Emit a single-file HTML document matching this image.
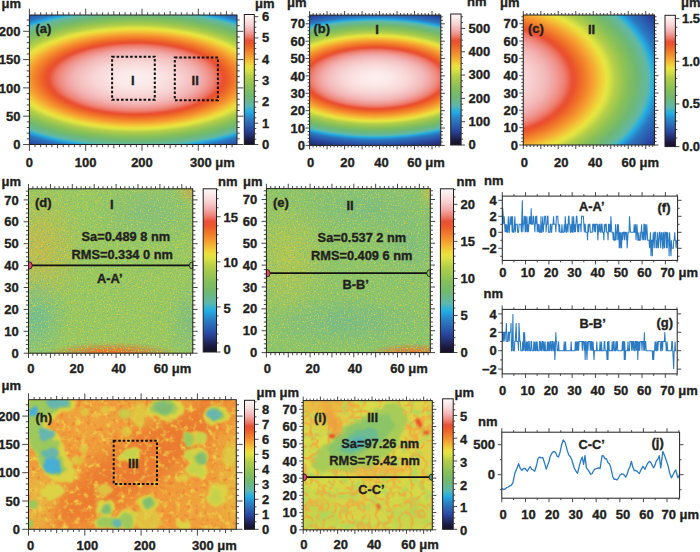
<!DOCTYPE html><html><head><meta charset="utf-8"><style>html,body{margin:0;padding:0;background:#fff}svg{display:block}text{font-family:"Liberation Sans", sans-serif}</style></head><body><svg width="700" height="552" viewBox="0 0 700 552"><defs><radialGradient id="ga" gradientUnits="userSpaceOnUse" cx="0" cy="0" r="1" fx="0" fy="0" gradientTransform="translate(135.70 78.50) scale(259.50 106.50)"><stop offset="0.0000" stop-color="#fdf0f0"/><stop offset="0.0111" stop-color="#fdefef"/><stop offset="0.0222" stop-color="#fdeeee"/><stop offset="0.0333" stop-color="#fceded"/><stop offset="0.0444" stop-color="#fcebeb"/><stop offset="0.0556" stop-color="#fceaea"/><stop offset="0.0667" stop-color="#fce9e9"/><stop offset="0.0778" stop-color="#fbe7e7"/><stop offset="0.0889" stop-color="#fbe5e5"/><stop offset="0.1000" stop-color="#fbe3e3"/><stop offset="0.1111" stop-color="#fae0e0"/><stop offset="0.1222" stop-color="#fadede"/><stop offset="0.1333" stop-color="#f9dbdb"/><stop offset="0.1444" stop-color="#f9d9d9"/><stop offset="0.1556" stop-color="#f8d6d6"/><stop offset="0.1667" stop-color="#f8d3d3"/><stop offset="0.1778" stop-color="#f7cece"/><stop offset="0.1889" stop-color="#f6caca"/><stop offset="0.2000" stop-color="#f6c6c6"/><stop offset="0.2111" stop-color="#f5c1c1"/><stop offset="0.2222" stop-color="#f4bdbd"/><stop offset="0.2333" stop-color="#f3b7b7"/><stop offset="0.2444" stop-color="#f2b1b1"/><stop offset="0.2556" stop-color="#f1a9a7"/><stop offset="0.2667" stop-color="#f1a19d"/><stop offset="0.2778" stop-color="#f09892"/><stop offset="0.2889" stop-color="#ef8e84"/><stop offset="0.3000" stop-color="#ee8377"/><stop offset="0.3111" stop-color="#ed7565"/><stop offset="0.3222" stop-color="#eb634d"/><stop offset="0.3333" stop-color="#e95135"/><stop offset="0.3444" stop-color="#ea522b"/><stop offset="0.3556" stop-color="#ec5d2a"/><stop offset="0.3667" stop-color="#ee6929"/><stop offset="0.3778" stop-color="#f17529"/><stop offset="0.3889" stop-color="#f2822b"/><stop offset="0.4000" stop-color="#f48f2e"/><stop offset="0.4111" stop-color="#f59c30"/><stop offset="0.4222" stop-color="#f4ab33"/><stop offset="0.4333" stop-color="#f3ba35"/><stop offset="0.4444" stop-color="#f2c938"/><stop offset="0.4556" stop-color="#eed63b"/><stop offset="0.4667" stop-color="#eae33f"/><stop offset="0.4778" stop-color="#dbe242"/><stop offset="0.4889" stop-color="#cad945"/><stop offset="0.5000" stop-color="#b8d047"/><stop offset="0.5111" stop-color="#abcb4b"/><stop offset="0.5222" stop-color="#a0c84f"/><stop offset="0.5333" stop-color="#94c453"/><stop offset="0.5444" stop-color="#8ac157"/><stop offset="0.5556" stop-color="#82be5e"/><stop offset="0.5667" stop-color="#7bbc65"/><stop offset="0.5778" stop-color="#74b96c"/><stop offset="0.5889" stop-color="#6eb876"/><stop offset="0.6000" stop-color="#6ab884"/><stop offset="0.6111" stop-color="#67b891"/><stop offset="0.6222" stop-color="#63b89f"/><stop offset="0.6333" stop-color="#57b7b1"/><stop offset="0.6444" stop-color="#2eb2da"/><stop offset="0.6556" stop-color="#24a0dc"/><stop offset="0.6667" stop-color="#2989cb"/><stop offset="0.6778" stop-color="#2a77bf"/><stop offset="0.6889" stop-color="#2a6db8"/><stop offset="0.7000" stop-color="#2a64b3"/><stop offset="0.7111" stop-color="#2a5bad"/><stop offset="0.7222" stop-color="#2a52a8"/><stop offset="0.7333" stop-color="#2a49a2"/><stop offset="0.7444" stop-color="#294197"/><stop offset="0.7556" stop-color="#273c8b"/><stop offset="0.7667" stop-color="#253781"/><stop offset="0.7778" stop-color="#243378"/><stop offset="0.7889" stop-color="#222e6e"/><stop offset="0.8000" stop-color="#212a64"/><stop offset="0.8111" stop-color="#1f265a"/><stop offset="0.8222" stop-color="#1e2150"/><stop offset="0.8333" stop-color="#1c1d45"/><stop offset="0.8444" stop-color="#1b1c42"/><stop offset="0.8556" stop-color="#1b1a3e"/><stop offset="0.8667" stop-color="#1a193b"/><stop offset="0.8778" stop-color="#1a1838"/><stop offset="0.8889" stop-color="#191736"/><stop offset="0.9000" stop-color="#191735"/><stop offset="0.9111" stop-color="#191634"/><stop offset="0.9222" stop-color="#181533"/><stop offset="0.9333" stop-color="#181531"/><stop offset="0.9444" stop-color="#171430"/><stop offset="0.9556" stop-color="#17132f"/><stop offset="0.9667" stop-color="#16132e"/><stop offset="0.9778" stop-color="#16122c"/><stop offset="0.9889" stop-color="#15122b"/><stop offset="1.0000" stop-color="#15112a"/></radialGradient><linearGradient id="cba" x1="0" y1="0" x2="0" y2="1"><stop offset="0.0000" stop-color="#fff8f8"/><stop offset="0.0250" stop-color="#fdeded"/><stop offset="0.0500" stop-color="#fae1e1"/><stop offset="0.0750" stop-color="#f8d4d4"/><stop offset="0.1000" stop-color="#f5c0c0"/><stop offset="0.1250" stop-color="#f2acab"/><stop offset="0.1500" stop-color="#f0928a"/><stop offset="0.1750" stop-color="#ed7565"/><stop offset="0.2000" stop-color="#e95135"/><stop offset="0.2250" stop-color="#eb572b"/><stop offset="0.2500" stop-color="#ee6829"/><stop offset="0.2750" stop-color="#f17a2a"/><stop offset="0.3000" stop-color="#f38d2e"/><stop offset="0.3250" stop-color="#f5a131"/><stop offset="0.3500" stop-color="#f3b735"/><stop offset="0.3750" stop-color="#f1ce38"/><stop offset="0.4000" stop-color="#ebe03e"/><stop offset="0.4250" stop-color="#dce242"/><stop offset="0.4500" stop-color="#c8d845"/><stop offset="0.4750" stop-color="#b4ce48"/><stop offset="0.5000" stop-color="#a7ca4d"/><stop offset="0.5250" stop-color="#9ac651"/><stop offset="0.5500" stop-color="#8dc256"/><stop offset="0.5750" stop-color="#83be5d"/><stop offset="0.6000" stop-color="#7abb66"/><stop offset="0.6250" stop-color="#72b96e"/><stop offset="0.6500" stop-color="#6bb881"/><stop offset="0.6750" stop-color="#65b896"/><stop offset="0.7000" stop-color="#5cb8ac"/><stop offset="0.7250" stop-color="#3bb3cd"/><stop offset="0.7500" stop-color="#21ace5"/><stop offset="0.7750" stop-color="#2695d4"/><stop offset="0.8000" stop-color="#2a80c5"/><stop offset="0.8250" stop-color="#2a70bb"/><stop offset="0.8500" stop-color="#2a60b0"/><stop offset="0.8750" stop-color="#2a4fa6"/><stop offset="0.9000" stop-color="#283f93"/><stop offset="0.9250" stop-color="#233173"/><stop offset="0.9500" stop-color="#1e2353"/><stop offset="0.9750" stop-color="#191736"/><stop offset="1.0000" stop-color="#15112a"/></linearGradient><radialGradient id="gb" gradientUnits="userSpaceOnUse" cx="0" cy="0" r="1" fx="0" fy="0" gradientTransform="translate(375.20 78.30) scale(210.00 90.90)"><stop offset="0.0000" stop-color="#fdf0f0"/><stop offset="0.0111" stop-color="#fdefef"/><stop offset="0.0222" stop-color="#fdeeee"/><stop offset="0.0333" stop-color="#fceded"/><stop offset="0.0444" stop-color="#fcebeb"/><stop offset="0.0556" stop-color="#fceaea"/><stop offset="0.0667" stop-color="#fce9e9"/><stop offset="0.0778" stop-color="#fbe7e7"/><stop offset="0.0889" stop-color="#fbe5e5"/><stop offset="0.1000" stop-color="#fbe3e3"/><stop offset="0.1111" stop-color="#fae0e0"/><stop offset="0.1222" stop-color="#fadede"/><stop offset="0.1333" stop-color="#f9dbdb"/><stop offset="0.1444" stop-color="#f9d9d9"/><stop offset="0.1556" stop-color="#f8d6d6"/><stop offset="0.1667" stop-color="#f8d3d3"/><stop offset="0.1778" stop-color="#f7cece"/><stop offset="0.1889" stop-color="#f6caca"/><stop offset="0.2000" stop-color="#f6c6c6"/><stop offset="0.2111" stop-color="#f5c1c1"/><stop offset="0.2222" stop-color="#f4bdbd"/><stop offset="0.2333" stop-color="#f3b7b7"/><stop offset="0.2444" stop-color="#f2b1b1"/><stop offset="0.2556" stop-color="#f1a9a7"/><stop offset="0.2667" stop-color="#f1a19d"/><stop offset="0.2778" stop-color="#f09892"/><stop offset="0.2889" stop-color="#ef8e84"/><stop offset="0.3000" stop-color="#ee8377"/><stop offset="0.3111" stop-color="#ed7565"/><stop offset="0.3222" stop-color="#eb634d"/><stop offset="0.3333" stop-color="#e95135"/><stop offset="0.3444" stop-color="#ea522b"/><stop offset="0.3556" stop-color="#ec5d2a"/><stop offset="0.3667" stop-color="#ee6929"/><stop offset="0.3778" stop-color="#f17529"/><stop offset="0.3889" stop-color="#f2822b"/><stop offset="0.4000" stop-color="#f48f2e"/><stop offset="0.4111" stop-color="#f59c30"/><stop offset="0.4222" stop-color="#f4ab33"/><stop offset="0.4333" stop-color="#f3ba35"/><stop offset="0.4444" stop-color="#f2c938"/><stop offset="0.4556" stop-color="#eed63b"/><stop offset="0.4667" stop-color="#eae33f"/><stop offset="0.4778" stop-color="#dbe242"/><stop offset="0.4889" stop-color="#cad945"/><stop offset="0.5000" stop-color="#b8d047"/><stop offset="0.5111" stop-color="#abcb4b"/><stop offset="0.5222" stop-color="#a0c84f"/><stop offset="0.5333" stop-color="#94c453"/><stop offset="0.5444" stop-color="#8ac157"/><stop offset="0.5556" stop-color="#82be5e"/><stop offset="0.5667" stop-color="#7bbc65"/><stop offset="0.5778" stop-color="#74b96c"/><stop offset="0.5889" stop-color="#6eb876"/><stop offset="0.6000" stop-color="#6ab884"/><stop offset="0.6111" stop-color="#67b891"/><stop offset="0.6222" stop-color="#63b89f"/><stop offset="0.6333" stop-color="#57b7b1"/><stop offset="0.6444" stop-color="#2eb2da"/><stop offset="0.6556" stop-color="#24a0dc"/><stop offset="0.6667" stop-color="#2989cb"/><stop offset="0.6778" stop-color="#2a77bf"/><stop offset="0.6889" stop-color="#2a6db8"/><stop offset="0.7000" stop-color="#2a64b3"/><stop offset="0.7111" stop-color="#2a5bad"/><stop offset="0.7222" stop-color="#2a52a8"/><stop offset="0.7333" stop-color="#2a49a2"/><stop offset="0.7444" stop-color="#294197"/><stop offset="0.7556" stop-color="#273c8b"/><stop offset="0.7667" stop-color="#253781"/><stop offset="0.7778" stop-color="#243378"/><stop offset="0.7889" stop-color="#222e6e"/><stop offset="0.8000" stop-color="#212a64"/><stop offset="0.8111" stop-color="#1f265a"/><stop offset="0.8222" stop-color="#1e2150"/><stop offset="0.8333" stop-color="#1c1d45"/><stop offset="0.8444" stop-color="#1b1c42"/><stop offset="0.8556" stop-color="#1b1a3e"/><stop offset="0.8667" stop-color="#1a193b"/><stop offset="0.8778" stop-color="#1a1838"/><stop offset="0.8889" stop-color="#191736"/><stop offset="0.9000" stop-color="#191735"/><stop offset="0.9111" stop-color="#191634"/><stop offset="0.9222" stop-color="#181533"/><stop offset="0.9333" stop-color="#181531"/><stop offset="0.9444" stop-color="#171430"/><stop offset="0.9556" stop-color="#17132f"/><stop offset="0.9667" stop-color="#16132e"/><stop offset="0.9778" stop-color="#16122c"/><stop offset="0.9889" stop-color="#15122b"/><stop offset="1.0000" stop-color="#15112a"/></radialGradient><linearGradient id="cbb" x1="0" y1="0" x2="0" y2="1"><stop offset="0.0000" stop-color="#fff8f8"/><stop offset="0.0250" stop-color="#fdeded"/><stop offset="0.0500" stop-color="#fae1e1"/><stop offset="0.0750" stop-color="#f8d4d4"/><stop offset="0.1000" stop-color="#f5c0c0"/><stop offset="0.1250" stop-color="#f2acab"/><stop offset="0.1500" stop-color="#f0928a"/><stop offset="0.1750" stop-color="#ed7565"/><stop offset="0.2000" stop-color="#e95135"/><stop offset="0.2250" stop-color="#eb572b"/><stop offset="0.2500" stop-color="#ee6829"/><stop offset="0.2750" stop-color="#f17a2a"/><stop offset="0.3000" stop-color="#f38d2e"/><stop offset="0.3250" stop-color="#f5a131"/><stop offset="0.3500" stop-color="#f3b735"/><stop offset="0.3750" stop-color="#f1ce38"/><stop offset="0.4000" stop-color="#ebe03e"/><stop offset="0.4250" stop-color="#dce242"/><stop offset="0.4500" stop-color="#c8d845"/><stop offset="0.4750" stop-color="#b4ce48"/><stop offset="0.5000" stop-color="#a7ca4d"/><stop offset="0.5250" stop-color="#9ac651"/><stop offset="0.5500" stop-color="#8dc256"/><stop offset="0.5750" stop-color="#83be5d"/><stop offset="0.6000" stop-color="#7abb66"/><stop offset="0.6250" stop-color="#72b96e"/><stop offset="0.6500" stop-color="#6bb881"/><stop offset="0.6750" stop-color="#65b896"/><stop offset="0.7000" stop-color="#5cb8ac"/><stop offset="0.7250" stop-color="#3bb3cd"/><stop offset="0.7500" stop-color="#21ace5"/><stop offset="0.7750" stop-color="#2695d4"/><stop offset="0.8000" stop-color="#2a80c5"/><stop offset="0.8250" stop-color="#2a70bb"/><stop offset="0.8500" stop-color="#2a60b0"/><stop offset="0.8750" stop-color="#2a4fa6"/><stop offset="0.9000" stop-color="#283f93"/><stop offset="0.9250" stop-color="#233173"/><stop offset="0.9500" stop-color="#1e2353"/><stop offset="0.9750" stop-color="#191736"/><stop offset="1.0000" stop-color="#15112a"/></linearGradient><radialGradient id="gc" gradientUnits="userSpaceOnUse" cx="0" cy="0" r="1" fx="0" fy="0" gradientTransform="translate(486.00 79.50) scale(258.00 165.00)"><stop offset="0.0000" stop-color="#fdf0f0"/><stop offset="0.0111" stop-color="#fdefef"/><stop offset="0.0222" stop-color="#fdeeee"/><stop offset="0.0333" stop-color="#fceded"/><stop offset="0.0444" stop-color="#fcebeb"/><stop offset="0.0556" stop-color="#fceaea"/><stop offset="0.0667" stop-color="#fce9e9"/><stop offset="0.0778" stop-color="#fbe7e7"/><stop offset="0.0889" stop-color="#fbe5e5"/><stop offset="0.1000" stop-color="#fbe3e3"/><stop offset="0.1111" stop-color="#fae0e0"/><stop offset="0.1222" stop-color="#fadede"/><stop offset="0.1333" stop-color="#f9dbdb"/><stop offset="0.1444" stop-color="#f9d9d9"/><stop offset="0.1556" stop-color="#f8d6d6"/><stop offset="0.1667" stop-color="#f8d3d3"/><stop offset="0.1778" stop-color="#f7cece"/><stop offset="0.1889" stop-color="#f6caca"/><stop offset="0.2000" stop-color="#f6c6c6"/><stop offset="0.2111" stop-color="#f5c1c1"/><stop offset="0.2222" stop-color="#f4bdbd"/><stop offset="0.2333" stop-color="#f3b7b7"/><stop offset="0.2444" stop-color="#f2b1b1"/><stop offset="0.2556" stop-color="#f1a9a7"/><stop offset="0.2667" stop-color="#f1a19d"/><stop offset="0.2778" stop-color="#f09892"/><stop offset="0.2889" stop-color="#ef8e84"/><stop offset="0.3000" stop-color="#ee8377"/><stop offset="0.3111" stop-color="#ed7565"/><stop offset="0.3222" stop-color="#eb634d"/><stop offset="0.3333" stop-color="#e95135"/><stop offset="0.3444" stop-color="#ea522b"/><stop offset="0.3556" stop-color="#ec5d2a"/><stop offset="0.3667" stop-color="#ee6929"/><stop offset="0.3778" stop-color="#f17529"/><stop offset="0.3889" stop-color="#f2822b"/><stop offset="0.4000" stop-color="#f48f2e"/><stop offset="0.4111" stop-color="#f59c30"/><stop offset="0.4222" stop-color="#f4ab33"/><stop offset="0.4333" stop-color="#f3ba35"/><stop offset="0.4444" stop-color="#f2c938"/><stop offset="0.4556" stop-color="#eed63b"/><stop offset="0.4667" stop-color="#eae33f"/><stop offset="0.4778" stop-color="#dbe242"/><stop offset="0.4889" stop-color="#cad945"/><stop offset="0.5000" stop-color="#b8d047"/><stop offset="0.5111" stop-color="#abcb4b"/><stop offset="0.5222" stop-color="#a0c84f"/><stop offset="0.5333" stop-color="#94c453"/><stop offset="0.5444" stop-color="#8ac157"/><stop offset="0.5556" stop-color="#82be5e"/><stop offset="0.5667" stop-color="#7bbc65"/><stop offset="0.5778" stop-color="#74b96c"/><stop offset="0.5889" stop-color="#6eb876"/><stop offset="0.6000" stop-color="#6ab884"/><stop offset="0.6111" stop-color="#67b891"/><stop offset="0.6222" stop-color="#63b89f"/><stop offset="0.6333" stop-color="#57b7b1"/><stop offset="0.6444" stop-color="#2eb2da"/><stop offset="0.6556" stop-color="#24a0dc"/><stop offset="0.6667" stop-color="#2989cb"/><stop offset="0.6778" stop-color="#2a77bf"/><stop offset="0.6889" stop-color="#2a6db8"/><stop offset="0.7000" stop-color="#2a64b3"/><stop offset="0.7111" stop-color="#2a5bad"/><stop offset="0.7222" stop-color="#2a52a8"/><stop offset="0.7333" stop-color="#2a49a2"/><stop offset="0.7444" stop-color="#294197"/><stop offset="0.7556" stop-color="#273c8b"/><stop offset="0.7667" stop-color="#253781"/><stop offset="0.7778" stop-color="#243378"/><stop offset="0.7889" stop-color="#222e6e"/><stop offset="0.8000" stop-color="#212a64"/><stop offset="0.8111" stop-color="#1f265a"/><stop offset="0.8222" stop-color="#1e2150"/><stop offset="0.8333" stop-color="#1c1d45"/><stop offset="0.8444" stop-color="#1b1c42"/><stop offset="0.8556" stop-color="#1b1a3e"/><stop offset="0.8667" stop-color="#1a193b"/><stop offset="0.8778" stop-color="#1a1838"/><stop offset="0.8889" stop-color="#191736"/><stop offset="0.9000" stop-color="#191735"/><stop offset="0.9111" stop-color="#191634"/><stop offset="0.9222" stop-color="#181533"/><stop offset="0.9333" stop-color="#181531"/><stop offset="0.9444" stop-color="#171430"/><stop offset="0.9556" stop-color="#17132f"/><stop offset="0.9667" stop-color="#16132e"/><stop offset="0.9778" stop-color="#16122c"/><stop offset="0.9889" stop-color="#15122b"/><stop offset="1.0000" stop-color="#15112a"/></radialGradient><linearGradient id="cbc" x1="0" y1="0" x2="0" y2="1"><stop offset="0.0000" stop-color="#fff8f8"/><stop offset="0.0250" stop-color="#fdeded"/><stop offset="0.0500" stop-color="#fae1e1"/><stop offset="0.0750" stop-color="#f8d4d4"/><stop offset="0.1000" stop-color="#f5c0c0"/><stop offset="0.1250" stop-color="#f2acab"/><stop offset="0.1500" stop-color="#f0928a"/><stop offset="0.1750" stop-color="#ed7565"/><stop offset="0.2000" stop-color="#e95135"/><stop offset="0.2250" stop-color="#eb572b"/><stop offset="0.2500" stop-color="#ee6829"/><stop offset="0.2750" stop-color="#f17a2a"/><stop offset="0.3000" stop-color="#f38d2e"/><stop offset="0.3250" stop-color="#f5a131"/><stop offset="0.3500" stop-color="#f3b735"/><stop offset="0.3750" stop-color="#f1ce38"/><stop offset="0.4000" stop-color="#ebe03e"/><stop offset="0.4250" stop-color="#dce242"/><stop offset="0.4500" stop-color="#c8d845"/><stop offset="0.4750" stop-color="#b4ce48"/><stop offset="0.5000" stop-color="#a7ca4d"/><stop offset="0.5250" stop-color="#9ac651"/><stop offset="0.5500" stop-color="#8dc256"/><stop offset="0.5750" stop-color="#83be5d"/><stop offset="0.6000" stop-color="#7abb66"/><stop offset="0.6250" stop-color="#72b96e"/><stop offset="0.6500" stop-color="#6bb881"/><stop offset="0.6750" stop-color="#65b896"/><stop offset="0.7000" stop-color="#5cb8ac"/><stop offset="0.7250" stop-color="#3bb3cd"/><stop offset="0.7500" stop-color="#21ace5"/><stop offset="0.7750" stop-color="#2695d4"/><stop offset="0.8000" stop-color="#2a80c5"/><stop offset="0.8250" stop-color="#2a70bb"/><stop offset="0.8500" stop-color="#2a60b0"/><stop offset="0.8750" stop-color="#2a4fa6"/><stop offset="0.9000" stop-color="#283f93"/><stop offset="0.9250" stop-color="#233173"/><stop offset="0.9500" stop-color="#1e2353"/><stop offset="0.9750" stop-color="#191736"/><stop offset="1.0000" stop-color="#15112a"/></linearGradient><filter id="nzY" x="0" y="0" width="100%" height="100%" color-interpolation-filters="sRGB"><feTurbulence type="fractalNoise" baseFrequency="0.7" numOctaves="2" seed="3"/><feGaussianBlur stdDeviation="0.3"/><feColorMatrix type="matrix" values="0 0 0 0 0.86  0 0 0 0 0.84  0 0 0 0 0.26  3.0 0 0 0 -1.55"/></filter><filter id="nzT" x="0" y="0" width="100%" height="100%" color-interpolation-filters="sRGB"><feTurbulence type="fractalNoise" baseFrequency="0.7" numOctaves="2" seed="9"/><feGaussianBlur stdDeviation="0.3"/><feColorMatrix type="matrix" values="0 0 0 0 0.42  0 0 0 0 0.72  0 0 0 0 0.58  0 3.0 0 0 -1.55"/></filter><filter id="nzO" x="0" y="0" width="100%" height="100%" color-interpolation-filters="sRGB"><feTurbulence type="fractalNoise" baseFrequency="0.6" numOctaves="2" seed="21"/><feColorMatrix type="matrix" values="0 0 0 0 0.95  0 0 0 0 0.58  0 0 0 0 0.2  0 0 4 0 -2.85"/></filter><clipPath id="clipd"><rect x="28.5" y="188.8" width="164.30" height="164.40"/></clipPath><radialGradient id="bl10"><stop offset="0" stop-color="#dcb440" stop-opacity="0.72"/><stop offset="1" stop-color="#dcb440" stop-opacity="0"/></radialGradient><radialGradient id="bl11"><stop offset="0" stop-color="#74b890" stop-opacity="0.6"/><stop offset="1" stop-color="#74b890" stop-opacity="0"/></radialGradient><radialGradient id="bl12"><stop offset="0" stop-color="#f06c24" stop-opacity="1.0"/><stop offset="0.3" stop-color="#f06c24" stop-opacity="1.0"/><stop offset="1" stop-color="#f06c24" stop-opacity="0"/></radialGradient><radialGradient id="bl13"><stop offset="0" stop-color="#5cb8ac" stop-opacity="0.7"/><stop offset="1" stop-color="#5cb8ac" stop-opacity="0"/></radialGradient><radialGradient id="bl14"><stop offset="0" stop-color="#66b69c" stop-opacity="0.55"/><stop offset="1" stop-color="#66b69c" stop-opacity="0"/></radialGradient><radialGradient id="bl15"><stop offset="0" stop-color="#e8a040" stop-opacity="0.7"/><stop offset="1" stop-color="#e8a040" stop-opacity="0"/></radialGradient><linearGradient id="cbd" x1="0" y1="0" x2="0" y2="1"><stop offset="0.0000" stop-color="#fff8f8"/><stop offset="0.0250" stop-color="#fdeded"/><stop offset="0.0500" stop-color="#fae1e1"/><stop offset="0.0750" stop-color="#f8d4d4"/><stop offset="0.1000" stop-color="#f5c0c0"/><stop offset="0.1250" stop-color="#f2acab"/><stop offset="0.1500" stop-color="#f0928a"/><stop offset="0.1750" stop-color="#ed7565"/><stop offset="0.2000" stop-color="#e95135"/><stop offset="0.2250" stop-color="#eb572b"/><stop offset="0.2500" stop-color="#ee6829"/><stop offset="0.2750" stop-color="#f17a2a"/><stop offset="0.3000" stop-color="#f38d2e"/><stop offset="0.3250" stop-color="#f5a131"/><stop offset="0.3500" stop-color="#f3b735"/><stop offset="0.3750" stop-color="#f1ce38"/><stop offset="0.4000" stop-color="#ebe03e"/><stop offset="0.4250" stop-color="#dce242"/><stop offset="0.4500" stop-color="#c8d845"/><stop offset="0.4750" stop-color="#b4ce48"/><stop offset="0.5000" stop-color="#a7ca4d"/><stop offset="0.5250" stop-color="#9ac651"/><stop offset="0.5500" stop-color="#8dc256"/><stop offset="0.5750" stop-color="#83be5d"/><stop offset="0.6000" stop-color="#7abb66"/><stop offset="0.6250" stop-color="#72b96e"/><stop offset="0.6500" stop-color="#6bb881"/><stop offset="0.6750" stop-color="#65b896"/><stop offset="0.7000" stop-color="#5cb8ac"/><stop offset="0.7250" stop-color="#3bb3cd"/><stop offset="0.7500" stop-color="#21ace5"/><stop offset="0.7750" stop-color="#2695d4"/><stop offset="0.8000" stop-color="#2a80c5"/><stop offset="0.8250" stop-color="#2a70bb"/><stop offset="0.8500" stop-color="#2a60b0"/><stop offset="0.8750" stop-color="#2a4fa6"/><stop offset="0.9000" stop-color="#283f93"/><stop offset="0.9250" stop-color="#233173"/><stop offset="0.9500" stop-color="#1e2353"/><stop offset="0.9750" stop-color="#191736"/><stop offset="1.0000" stop-color="#15112a"/></linearGradient><clipPath id="clipe"><rect x="266.4" y="188.6" width="163.90" height="164.00"/></clipPath><radialGradient id="bl18"><stop offset="0" stop-color="#c0c848" stop-opacity="0.78"/><stop offset="1" stop-color="#c0c848" stop-opacity="0"/></radialGradient><radialGradient id="bl19"><stop offset="0" stop-color="#70b890" stop-opacity="0.55"/><stop offset="1" stop-color="#70b890" stop-opacity="0"/></radialGradient><radialGradient id="bl20"><stop offset="0" stop-color="#70b890" stop-opacity="0.5"/><stop offset="1" stop-color="#70b890" stop-opacity="0"/></radialGradient><radialGradient id="bl21"><stop offset="0" stop-color="#68b49c" stop-opacity="0.6"/><stop offset="1" stop-color="#68b49c" stop-opacity="0"/></radialGradient><radialGradient id="bl22"><stop offset="0" stop-color="#f07028" stop-opacity="1.0"/><stop offset="0.25" stop-color="#f07028" stop-opacity="1.0"/><stop offset="1" stop-color="#f07028" stop-opacity="0"/></radialGradient><radialGradient id="bl23"><stop offset="0" stop-color="#d8c040" stop-opacity="0.6"/><stop offset="1" stop-color="#d8c040" stop-opacity="0"/></radialGradient><linearGradient id="cbe" x1="0" y1="0" x2="0" y2="1"><stop offset="0.0000" stop-color="#fff8f8"/><stop offset="0.0250" stop-color="#fdeded"/><stop offset="0.0500" stop-color="#fae1e1"/><stop offset="0.0750" stop-color="#f8d4d4"/><stop offset="0.1000" stop-color="#f5c0c0"/><stop offset="0.1250" stop-color="#f2acab"/><stop offset="0.1500" stop-color="#f0928a"/><stop offset="0.1750" stop-color="#ed7565"/><stop offset="0.2000" stop-color="#e95135"/><stop offset="0.2250" stop-color="#eb572b"/><stop offset="0.2500" stop-color="#ee6829"/><stop offset="0.2750" stop-color="#f17a2a"/><stop offset="0.3000" stop-color="#f38d2e"/><stop offset="0.3250" stop-color="#f5a131"/><stop offset="0.3500" stop-color="#f3b735"/><stop offset="0.3750" stop-color="#f1ce38"/><stop offset="0.4000" stop-color="#ebe03e"/><stop offset="0.4250" stop-color="#dce242"/><stop offset="0.4500" stop-color="#c8d845"/><stop offset="0.4750" stop-color="#b4ce48"/><stop offset="0.5000" stop-color="#a7ca4d"/><stop offset="0.5250" stop-color="#9ac651"/><stop offset="0.5500" stop-color="#8dc256"/><stop offset="0.5750" stop-color="#83be5d"/><stop offset="0.6000" stop-color="#7abb66"/><stop offset="0.6250" stop-color="#72b96e"/><stop offset="0.6500" stop-color="#6bb881"/><stop offset="0.6750" stop-color="#65b896"/><stop offset="0.7000" stop-color="#5cb8ac"/><stop offset="0.7250" stop-color="#3bb3cd"/><stop offset="0.7500" stop-color="#21ace5"/><stop offset="0.7750" stop-color="#2695d4"/><stop offset="0.8000" stop-color="#2a80c5"/><stop offset="0.8250" stop-color="#2a70bb"/><stop offset="0.8500" stop-color="#2a60b0"/><stop offset="0.8750" stop-color="#2a4fa6"/><stop offset="0.9000" stop-color="#283f93"/><stop offset="0.9250" stop-color="#233173"/><stop offset="0.9500" stop-color="#1e2353"/><stop offset="0.9750" stop-color="#191736"/><stop offset="1.0000" stop-color="#15112a"/></linearGradient><clipPath id="clipf"><rect x="502.3" y="196.1" width="175.30" height="64.30"/></clipPath><clipPath id="clipg"><rect x="502.2" y="309.4" width="175.00" height="64.50"/></clipPath><clipPath id="cliph"><rect x="28.5" y="399.7" width="207.80" height="129.60"/></clipPath><filter id="blur1" x="-30%" y="-30%" width="160%" height="160%"><feGaussianBlur stdDeviation="1.2"/></filter><filter id="blur2" x="-30%" y="-30%" width="160%" height="160%"><feGaussianBlur stdDeviation="2"/></filter><filter id="blur3" x="-30%" y="-30%" width="160%" height="160%"><feGaussianBlur stdDeviation="3"/></filter><filter id="blur4" x="-30%" y="-30%" width="160%" height="160%"><feGaussianBlur stdDeviation="4"/></filter><filter id="wob" x="-10%" y="-10%" width="120%" height="120%" color-interpolation-filters="sRGB"><feTurbulence type="fractalNoise" baseFrequency="0.09" numOctaves="2" seed="2" result="t"/><feDisplacementMap in="SourceGraphic" in2="t" scale="9" xChannelSelector="R" yChannelSelector="G"/><feGaussianBlur stdDeviation="1"/></filter><filter id="wob2" x="-10%" y="-10%" width="120%" height="120%" color-interpolation-filters="sRGB"><feTurbulence type="fractalNoise" baseFrequency="0.12" numOctaves="2" seed="8" result="t"/><feDisplacementMap in="SourceGraphic" in2="t" scale="7" xChannelSelector="R" yChannelSelector="G"/><feGaussianBlur stdDeviation="1.3"/></filter><filter id="blur8" x="-50%" y="-50%" width="200%" height="200%"><feGaussianBlur stdDeviation="8"/></filter><filter id="nzH" x="0" y="0" width="100%" height="100%" color-interpolation-filters="sRGB"><feTurbulence type="fractalNoise" baseFrequency="0.16" numOctaves="3" seed="5"/><feGaussianBlur stdDeviation="0.5"/><feColorMatrix type="matrix" values="0 0 0 0 0.93  0 0 0 0 0.8  0 0 0 0 0.28  3.2 0 0 0 -1.62"/></filter><filter id="nzR" x="0" y="0" width="100%" height="100%" color-interpolation-filters="sRGB"><feTurbulence type="fractalNoise" baseFrequency="0.22" numOctaves="2" seed="17"/><feGaussianBlur stdDeviation="0.5"/><feColorMatrix type="matrix" values="0 0 0 0 0.92  0 0 0 0 0.47  0 0 0 0 0.19  0 2.6 0 0 -1.45"/></filter><linearGradient id="cbh" x1="0" y1="0" x2="0" y2="1"><stop offset="0.0000" stop-color="#fff8f8"/><stop offset="0.0250" stop-color="#fdeded"/><stop offset="0.0500" stop-color="#fae1e1"/><stop offset="0.0750" stop-color="#f8d4d4"/><stop offset="0.1000" stop-color="#f5c0c0"/><stop offset="0.1250" stop-color="#f2acab"/><stop offset="0.1500" stop-color="#f0928a"/><stop offset="0.1750" stop-color="#ed7565"/><stop offset="0.2000" stop-color="#e95135"/><stop offset="0.2250" stop-color="#eb572b"/><stop offset="0.2500" stop-color="#ee6829"/><stop offset="0.2750" stop-color="#f17a2a"/><stop offset="0.3000" stop-color="#f38d2e"/><stop offset="0.3250" stop-color="#f5a131"/><stop offset="0.3500" stop-color="#f3b735"/><stop offset="0.3750" stop-color="#f1ce38"/><stop offset="0.4000" stop-color="#ebe03e"/><stop offset="0.4250" stop-color="#dce242"/><stop offset="0.4500" stop-color="#c8d845"/><stop offset="0.4750" stop-color="#b4ce48"/><stop offset="0.5000" stop-color="#a7ca4d"/><stop offset="0.5250" stop-color="#9ac651"/><stop offset="0.5500" stop-color="#8dc256"/><stop offset="0.5750" stop-color="#83be5d"/><stop offset="0.6000" stop-color="#7abb66"/><stop offset="0.6250" stop-color="#72b96e"/><stop offset="0.6500" stop-color="#6bb881"/><stop offset="0.6750" stop-color="#65b896"/><stop offset="0.7000" stop-color="#5cb8ac"/><stop offset="0.7250" stop-color="#3bb3cd"/><stop offset="0.7500" stop-color="#21ace5"/><stop offset="0.7750" stop-color="#2695d4"/><stop offset="0.8000" stop-color="#2a80c5"/><stop offset="0.8250" stop-color="#2a70bb"/><stop offset="0.8500" stop-color="#2a60b0"/><stop offset="0.8750" stop-color="#2a4fa6"/><stop offset="0.9000" stop-color="#283f93"/><stop offset="0.9250" stop-color="#233173"/><stop offset="0.9500" stop-color="#1e2353"/><stop offset="0.9750" stop-color="#191736"/><stop offset="1.0000" stop-color="#15112a"/></linearGradient><clipPath id="clipi"><rect x="303.2" y="400.6" width="129.10" height="129.20"/></clipPath><filter id="nzV" x="0" y="0" width="100%" height="100%" color-interpolation-filters="sRGB"><feTurbulence type="turbulence" baseFrequency="0.085" numOctaves="2" seed="4"/><feColorMatrix type="matrix" values="0 0 0 0 0.95  0 0 0 0 0.66  0 0 0 0 0.24  -4.4 0 0 0 1.05"/><feGaussianBlur stdDeviation="0.6"/></filter><filter id="nzG" x="0" y="0" width="100%" height="100%" color-interpolation-filters="sRGB"><feTurbulence type="fractalNoise" baseFrequency="0.1" numOctaves="2" seed="12"/><feColorMatrix type="matrix" values="0 0 0 0 0.7  0 0 0 0 0.84  0 0 0 0 0.36  0 3.2 0 0 -1.45"/></filter><linearGradient id="cbi" x1="0" y1="0" x2="0" y2="1"><stop offset="0.0000" stop-color="#fff8f8"/><stop offset="0.0250" stop-color="#fdeded"/><stop offset="0.0500" stop-color="#fae1e1"/><stop offset="0.0750" stop-color="#f8d4d4"/><stop offset="0.1000" stop-color="#f5c0c0"/><stop offset="0.1250" stop-color="#f2acab"/><stop offset="0.1500" stop-color="#f0928a"/><stop offset="0.1750" stop-color="#ed7565"/><stop offset="0.2000" stop-color="#e95135"/><stop offset="0.2250" stop-color="#eb572b"/><stop offset="0.2500" stop-color="#ee6829"/><stop offset="0.2750" stop-color="#f17a2a"/><stop offset="0.3000" stop-color="#f38d2e"/><stop offset="0.3250" stop-color="#f5a131"/><stop offset="0.3500" stop-color="#f3b735"/><stop offset="0.3750" stop-color="#f1ce38"/><stop offset="0.4000" stop-color="#ebe03e"/><stop offset="0.4250" stop-color="#dce242"/><stop offset="0.4500" stop-color="#c8d845"/><stop offset="0.4750" stop-color="#b4ce48"/><stop offset="0.5000" stop-color="#a7ca4d"/><stop offset="0.5250" stop-color="#9ac651"/><stop offset="0.5500" stop-color="#8dc256"/><stop offset="0.5750" stop-color="#83be5d"/><stop offset="0.6000" stop-color="#7abb66"/><stop offset="0.6250" stop-color="#72b96e"/><stop offset="0.6500" stop-color="#6bb881"/><stop offset="0.6750" stop-color="#65b896"/><stop offset="0.7000" stop-color="#5cb8ac"/><stop offset="0.7250" stop-color="#3bb3cd"/><stop offset="0.7500" stop-color="#21ace5"/><stop offset="0.7750" stop-color="#2695d4"/><stop offset="0.8000" stop-color="#2a80c5"/><stop offset="0.8250" stop-color="#2a70bb"/><stop offset="0.8500" stop-color="#2a60b0"/><stop offset="0.8750" stop-color="#2a4fa6"/><stop offset="0.9000" stop-color="#283f93"/><stop offset="0.9250" stop-color="#233173"/><stop offset="0.9500" stop-color="#1e2353"/><stop offset="0.9750" stop-color="#191736"/><stop offset="1.0000" stop-color="#15112a"/></linearGradient></defs><rect x="29.4" y="15" width="207.60" height="129.50" fill="url(#ga)"/><rect x="112.1" y="56.7" width="42.7" height="43.1" fill="none" stroke="#111" stroke-width="2" stroke-dasharray="2.6 1.9"/><rect x="174.8" y="57.6" width="43.1" height="42.6" fill="none" stroke="#111" stroke-width="2" stroke-dasharray="2.6 1.9"/><text x="132.80" y="85.00" font-size="13" text-anchor="middle" font-weight="bold" fill="#231f20" stroke="#231f20" stroke-width="0.35" >I</text><text x="195.20" y="85.30" font-size="13" text-anchor="middle" font-weight="bold" fill="#231f20" stroke="#231f20" stroke-width="0.35" >II</text><text x="35.50" y="32.50" font-size="13" text-anchor="start" font-weight="bold" fill="#231f20" stroke="#231f20" stroke-width="0.35" >(a)</text><rect x="29.4" y="15" width="207.60" height="129.50" fill="none" stroke="#231f20" stroke-width="1"/><path d="M29.40 144.50v6.3 M29.40 15.00v-6.3 M35.03 144.50v2.7 M35.03 15.00v-2.7 M40.66 144.50v2.7 M40.66 15.00v-2.7 M46.29 144.50v2.7 M46.29 15.00v-2.7 M51.92 144.50v2.7 M51.92 15.00v-2.7 M57.55 144.50v3.8 M57.55 15.00v-3.8 M63.18 144.50v2.7 M63.18 15.00v-2.7 M68.81 144.50v2.7 M68.81 15.00v-2.7 M74.44 144.50v2.7 M74.44 15.00v-2.7 M80.07 144.50v2.7 M80.07 15.00v-2.7 M85.70 144.50v6.3 M85.70 15.00v-6.3 M91.33 144.50v2.7 M91.33 15.00v-2.7 M96.96 144.50v2.7 M96.96 15.00v-2.7 M102.59 144.50v2.7 M102.59 15.00v-2.7 M108.22 144.50v2.7 M108.22 15.00v-2.7 M113.85 144.50v3.8 M113.85 15.00v-3.8 M119.48 144.50v2.7 M119.48 15.00v-2.7 M125.11 144.50v2.7 M125.11 15.00v-2.7 M130.74 144.50v2.7 M130.74 15.00v-2.7 M136.37 144.50v2.7 M136.37 15.00v-2.7 M142.00 144.50v6.3 M142.00 15.00v-6.3 M147.63 144.50v2.7 M147.63 15.00v-2.7 M153.26 144.50v2.7 M153.26 15.00v-2.7 M158.89 144.50v2.7 M158.89 15.00v-2.7 M164.52 144.50v2.7 M164.52 15.00v-2.7 M170.15 144.50v3.8 M170.15 15.00v-3.8 M175.78 144.50v2.7 M175.78 15.00v-2.7 M181.41 144.50v2.7 M181.41 15.00v-2.7 M187.04 144.50v2.7 M187.04 15.00v-2.7 M192.67 144.50v2.7 M192.67 15.00v-2.7 M198.30 144.50v6.3 M198.30 15.00v-6.3 M203.93 144.50v2.7 M203.93 15.00v-2.7 M209.56 144.50v2.7 M209.56 15.00v-2.7 M215.19 144.50v2.7 M215.19 15.00v-2.7 M220.82 144.50v2.7 M220.82 15.00v-2.7 M226.45 144.50v3.8 M226.45 15.00v-3.8 M232.08 144.50v2.7 M232.08 15.00v-2.7 M29.40 144.50h-6.3 M237.00 144.50h6.3 M29.40 138.84h-2.7 M237.00 138.84h2.7 M29.40 133.18h-2.7 M237.00 133.18h2.7 M29.40 127.52h-2.7 M237.00 127.52h2.7 M29.40 121.86h-2.7 M237.00 121.86h2.7 M29.40 116.20h-6.3 M237.00 116.20h6.3 M29.40 110.54h-2.7 M237.00 110.54h2.7 M29.40 104.88h-2.7 M237.00 104.88h2.7 M29.40 99.22h-2.7 M237.00 99.22h2.7 M29.40 93.56h-2.7 M237.00 93.56h2.7 M29.40 87.90h-6.3 M237.00 87.90h6.3 M29.40 82.24h-2.7 M237.00 82.24h2.7 M29.40 76.58h-2.7 M237.00 76.58h2.7 M29.40 70.92h-2.7 M237.00 70.92h2.7 M29.40 65.26h-2.7 M237.00 65.26h2.7 M29.40 59.60h-6.3 M237.00 59.60h6.3 M29.40 53.94h-2.7 M237.00 53.94h2.7 M29.40 48.28h-2.7 M237.00 48.28h2.7 M29.40 42.62h-2.7 M237.00 42.62h2.7 M29.40 36.96h-2.7 M237.00 36.96h2.7 M29.40 31.30h-6.3 M237.00 31.30h6.3 M29.40 25.64h-2.7 M237.00 25.64h2.7 M29.40 19.98h-2.7 M237.00 19.98h2.7" stroke="#333" stroke-width="0.9" fill="none"/><text x="29.40" y="166.50" font-size="13" text-anchor="middle" font-weight="bold" fill="#231f20" stroke="#231f20" stroke-width="0.35" >0</text><text x="85.70" y="166.50" font-size="13" text-anchor="middle" font-weight="bold" fill="#231f20" stroke="#231f20" stroke-width="0.35" >100</text><text x="142.00" y="166.50" font-size="13" text-anchor="middle" font-weight="bold" fill="#231f20" stroke="#231f20" stroke-width="0.35" >200</text><text x="190.00" y="166.50" font-size="13" text-anchor="start" font-weight="bold" fill="#231f20" stroke="#231f20" stroke-width="0.35" >300 μm</text><text x="20.50" y="149.10" font-size="13" text-anchor="end" font-weight="bold" fill="#231f20" stroke="#231f20" stroke-width="0.35" >0</text><text x="20.50" y="120.80" font-size="13" text-anchor="end" font-weight="bold" fill="#231f20" stroke="#231f20" stroke-width="0.35" >50</text><text x="20.50" y="92.50" font-size="13" text-anchor="end" font-weight="bold" fill="#231f20" stroke="#231f20" stroke-width="0.35" >100</text><text x="20.50" y="64.20" font-size="13" text-anchor="end" font-weight="bold" fill="#231f20" stroke="#231f20" stroke-width="0.35" >150</text><text x="20.50" y="35.90" font-size="13" text-anchor="end" font-weight="bold" fill="#231f20" stroke="#231f20" stroke-width="0.35" >200</text><text x="1.50" y="7.80" font-size="13" text-anchor="start" font-weight="bold" fill="#231f20" stroke="#231f20" stroke-width="0.35" >μm</text><rect x="244.3" y="14.5" width="10.0" height="130.0" fill="url(#cba)" stroke="#231f20" stroke-width="1"/><path d="M254.30 144.50h4 M254.30 139.17h2 M254.30 133.84h2 M254.30 128.52h2 M254.30 123.19h4 M254.30 117.86h2 M254.30 112.53h2 M254.30 107.20h2 M254.30 101.88h4 M254.30 96.55h2 M254.30 91.22h2 M254.30 85.89h2 M254.30 80.57h4 M254.30 75.24h2 M254.30 69.91h2 M254.30 64.58h2 M254.30 59.25h4 M254.30 53.93h2 M254.30 48.60h2 M254.30 43.27h2 M254.30 37.94h4 M254.30 32.61h2 M254.30 27.29h2 M254.30 21.96h2 M254.30 16.63h4" stroke="#333" stroke-width="0.9" fill="none"/><text x="262.00" y="148.90" font-size="13" text-anchor="start" font-weight="bold" fill="#231f20" stroke="#231f20" stroke-width="0.35" >0</text><text x="262.00" y="127.59" font-size="13" text-anchor="start" font-weight="bold" fill="#231f20" stroke="#231f20" stroke-width="0.35" >1</text><text x="262.00" y="106.28" font-size="13" text-anchor="start" font-weight="bold" fill="#231f20" stroke="#231f20" stroke-width="0.35" >2</text><text x="262.00" y="84.97" font-size="13" text-anchor="start" font-weight="bold" fill="#231f20" stroke="#231f20" stroke-width="0.35" >3</text><text x="262.00" y="63.65" font-size="13" text-anchor="start" font-weight="bold" fill="#231f20" stroke="#231f20" stroke-width="0.35" >4</text><text x="262.00" y="42.34" font-size="13" text-anchor="start" font-weight="bold" fill="#231f20" stroke="#231f20" stroke-width="0.35" >5</text><text x="262.00" y="21.03" font-size="13" text-anchor="start" font-weight="bold" fill="#231f20" stroke="#231f20" stroke-width="0.35" >6</text><text x="255.00" y="7.80" font-size="13" text-anchor="start" font-weight="bold" fill="#231f20" stroke="#231f20" stroke-width="0.35" >μm</text><rect x="309.6" y="15.1" width="131.20" height="130.30" fill="url(#gb)"/><text x="313.50" y="33.00" font-size="13" text-anchor="start" font-weight="bold" fill="#231f20" stroke="#231f20" stroke-width="0.35" >(b)</text><text x="377.00" y="33.60" font-size="13" text-anchor="middle" font-weight="bold" fill="#231f20" stroke="#231f20" stroke-width="0.35" >I</text><rect x="309.6" y="15.1" width="131.20" height="130.30" fill="none" stroke="#231f20" stroke-width="1"/><path d="M309.60 145.40v4 M309.60 15.10v-4 M313.10 145.40v2 M313.10 15.10v-2 M316.60 145.40v2 M316.60 15.10v-2 M320.09 145.40v2 M320.09 15.10v-2 M323.59 145.40v2 M323.59 15.10v-2 M327.09 145.40v4 M327.09 15.10v-4 M330.59 145.40v2 M330.59 15.10v-2 M334.09 145.40v2 M334.09 15.10v-2 M337.58 145.40v2 M337.58 15.10v-2 M341.08 145.40v2 M341.08 15.10v-2 M344.58 145.40v4 M344.58 15.10v-4 M348.08 145.40v2 M348.08 15.10v-2 M351.58 145.40v2 M351.58 15.10v-2 M355.07 145.40v2 M355.07 15.10v-2 M358.57 145.40v2 M358.57 15.10v-2 M362.07 145.40v4 M362.07 15.10v-4 M365.57 145.40v2 M365.57 15.10v-2 M369.07 145.40v2 M369.07 15.10v-2 M372.56 145.40v2 M372.56 15.10v-2 M376.06 145.40v2 M376.06 15.10v-2 M379.56 145.40v4 M379.56 15.10v-4 M383.06 145.40v2 M383.06 15.10v-2 M386.56 145.40v2 M386.56 15.10v-2 M390.05 145.40v2 M390.05 15.10v-2 M393.55 145.40v2 M393.55 15.10v-2 M397.05 145.40v4 M397.05 15.10v-4 M400.55 145.40v2 M400.55 15.10v-2 M404.05 145.40v2 M404.05 15.10v-2 M407.54 145.40v2 M407.54 15.10v-2 M411.04 145.40v2 M411.04 15.10v-2 M414.54 145.40v4 M414.54 15.10v-4 M418.04 145.40v2 M418.04 15.10v-2 M421.54 145.40v2 M421.54 15.10v-2 M425.03 145.40v2 M425.03 15.10v-2 M428.53 145.40v2 M428.53 15.10v-2 M432.03 145.40v4 M432.03 15.10v-4 M435.53 145.40v2 M435.53 15.10v-2 M439.03 145.40v2 M439.03 15.10v-2 M309.60 145.40h-4 M440.80 145.40h4 M309.60 141.93h-2 M440.80 141.93h2 M309.60 138.45h-2 M440.80 138.45h2 M309.60 134.98h-2 M440.80 134.98h2 M309.60 131.50h-2 M440.80 131.50h2 M309.60 128.03h-4 M440.80 128.03h4 M309.60 124.56h-2 M440.80 124.56h2 M309.60 121.08h-2 M440.80 121.08h2 M309.60 117.61h-2 M440.80 117.61h2 M309.60 114.13h-2 M440.80 114.13h2 M309.60 110.66h-4 M440.80 110.66h4 M309.60 107.19h-2 M440.80 107.19h2 M309.60 103.71h-2 M440.80 103.71h2 M309.60 100.24h-2 M440.80 100.24h2 M309.60 96.76h-2 M440.80 96.76h2 M309.60 93.29h-4 M440.80 93.29h4 M309.60 89.82h-2 M440.80 89.82h2 M309.60 86.34h-2 M440.80 86.34h2 M309.60 82.87h-2 M440.80 82.87h2 M309.60 79.39h-2 M440.80 79.39h2 M309.60 75.92h-4 M440.80 75.92h4 M309.60 72.45h-2 M440.80 72.45h2 M309.60 68.97h-2 M440.80 68.97h2 M309.60 65.50h-2 M440.80 65.50h2 M309.60 62.02h-2 M440.80 62.02h2 M309.60 58.55h-4 M440.80 58.55h4 M309.60 55.08h-2 M440.80 55.08h2 M309.60 51.60h-2 M440.80 51.60h2 M309.60 48.13h-2 M440.80 48.13h2 M309.60 44.65h-2 M440.80 44.65h2 M309.60 41.18h-4 M440.80 41.18h4 M309.60 37.71h-2 M440.80 37.71h2 M309.60 34.23h-2 M440.80 34.23h2 M309.60 30.76h-2 M440.80 30.76h2 M309.60 27.28h-2 M440.80 27.28h2 M309.60 23.81h-4 M440.80 23.81h4 M309.60 20.34h-2 M440.80 20.34h2 M309.60 16.86h-2 M440.80 16.86h2" stroke="#333" stroke-width="0.9" fill="none"/><text x="310.60" y="166.80" font-size="13" text-anchor="middle" font-weight="bold" fill="#231f20" stroke="#231f20" stroke-width="0.35" >0</text><text x="347.58" y="166.80" font-size="13" text-anchor="middle" font-weight="bold" fill="#231f20" stroke="#231f20" stroke-width="0.35" >20</text><text x="381.56" y="166.80" font-size="13" text-anchor="middle" font-weight="bold" fill="#231f20" stroke="#231f20" stroke-width="0.35" >40</text><text x="407.30" y="166.80" font-size="13" text-anchor="start" font-weight="bold" fill="#231f20" stroke="#231f20" stroke-width="0.35" >60 μm</text><text x="305.00" y="150.00" font-size="13" text-anchor="end" font-weight="bold" fill="#231f20" stroke="#231f20" stroke-width="0.35" >0</text><text x="305.00" y="132.63" font-size="13" text-anchor="end" font-weight="bold" fill="#231f20" stroke="#231f20" stroke-width="0.35" >10</text><text x="305.00" y="115.26" font-size="13" text-anchor="end" font-weight="bold" fill="#231f20" stroke="#231f20" stroke-width="0.35" >20</text><text x="305.00" y="97.89" font-size="13" text-anchor="end" font-weight="bold" fill="#231f20" stroke="#231f20" stroke-width="0.35" >30</text><text x="305.00" y="80.52" font-size="13" text-anchor="end" font-weight="bold" fill="#231f20" stroke="#231f20" stroke-width="0.35" >40</text><text x="305.00" y="63.15" font-size="13" text-anchor="end" font-weight="bold" fill="#231f20" stroke="#231f20" stroke-width="0.35" >50</text><text x="305.00" y="45.78" font-size="13" text-anchor="end" font-weight="bold" fill="#231f20" stroke="#231f20" stroke-width="0.35" >60</text><text x="305.00" y="28.41" font-size="13" text-anchor="end" font-weight="bold" fill="#231f20" stroke="#231f20" stroke-width="0.35" >70</text><text x="287.00" y="6.60" font-size="13" text-anchor="start" font-weight="bold" fill="#231f20" stroke="#231f20" stroke-width="0.35" >μm</text><rect x="450.7" y="14" width="10.400000000000034" height="131" fill="url(#cbb)" stroke="#231f20" stroke-width="1"/><path d="M461.10 145.00h4 M461.10 139.17h2 M461.10 133.35h2 M461.10 127.52h2 M461.10 121.69h4 M461.10 115.86h2 M461.10 110.04h2 M461.10 104.21h2 M461.10 98.38h4 M461.10 92.55h2 M461.10 86.73h2 M461.10 80.90h2 M461.10 75.07h4 M461.10 69.24h2 M461.10 63.42h2 M461.10 57.59h2 M461.10 51.76h4 M461.10 45.93h2 M461.10 40.11h2 M461.10 34.28h2 M461.10 28.45h4 M461.10 22.62h2 M461.10 16.80h2" stroke="#333" stroke-width="0.9" fill="none"/><text x="468.50" y="149.40" font-size="13" text-anchor="start" font-weight="bold" fill="#231f20" stroke="#231f20" stroke-width="0.35" >0</text><text x="468.50" y="126.09" font-size="13" text-anchor="start" font-weight="bold" fill="#231f20" stroke="#231f20" stroke-width="0.35" >100</text><text x="468.50" y="102.78" font-size="13" text-anchor="start" font-weight="bold" fill="#231f20" stroke="#231f20" stroke-width="0.35" >200</text><text x="468.50" y="79.47" font-size="13" text-anchor="start" font-weight="bold" fill="#231f20" stroke="#231f20" stroke-width="0.35" >300</text><text x="468.50" y="56.16" font-size="13" text-anchor="start" font-weight="bold" fill="#231f20" stroke="#231f20" stroke-width="0.35" >400</text><text x="468.50" y="32.85" font-size="13" text-anchor="start" font-weight="bold" fill="#231f20" stroke="#231f20" stroke-width="0.35" >500</text><text x="467.00" y="6.40" font-size="13" text-anchor="start" font-weight="bold" fill="#231f20" stroke="#231f20" stroke-width="0.35" >nm</text><rect x="523.3" y="15" width="131.20" height="130.00" fill="url(#gc)"/><text x="528.00" y="32.50" font-size="13" text-anchor="start" font-weight="bold" fill="#231f20" stroke="#231f20" stroke-width="0.35" >(c)</text><text x="591.50" y="33.50" font-size="13" text-anchor="middle" font-weight="bold" fill="#231f20" stroke="#231f20" stroke-width="0.35" >II</text><rect x="523.3" y="15" width="131.20" height="130.00" fill="none" stroke="#231f20" stroke-width="1"/><path d="M523.30 145.00v4 M523.30 15.00v-4 M526.80 145.00v2 M526.80 15.00v-2 M530.30 145.00v2 M530.30 15.00v-2 M533.79 145.00v2 M533.79 15.00v-2 M537.29 145.00v2 M537.29 15.00v-2 M540.79 145.00v4 M540.79 15.00v-4 M544.29 145.00v2 M544.29 15.00v-2 M547.79 145.00v2 M547.79 15.00v-2 M551.28 145.00v2 M551.28 15.00v-2 M554.78 145.00v2 M554.78 15.00v-2 M558.28 145.00v4 M558.28 15.00v-4 M561.78 145.00v2 M561.78 15.00v-2 M565.28 145.00v2 M565.28 15.00v-2 M568.77 145.00v2 M568.77 15.00v-2 M572.27 145.00v2 M572.27 15.00v-2 M575.77 145.00v4 M575.77 15.00v-4 M579.27 145.00v2 M579.27 15.00v-2 M582.77 145.00v2 M582.77 15.00v-2 M586.26 145.00v2 M586.26 15.00v-2 M589.76 145.00v2 M589.76 15.00v-2 M593.26 145.00v4 M593.26 15.00v-4 M596.76 145.00v2 M596.76 15.00v-2 M600.26 145.00v2 M600.26 15.00v-2 M603.75 145.00v2 M603.75 15.00v-2 M607.25 145.00v2 M607.25 15.00v-2 M610.75 145.00v4 M610.75 15.00v-4 M614.25 145.00v2 M614.25 15.00v-2 M617.75 145.00v2 M617.75 15.00v-2 M621.24 145.00v2 M621.24 15.00v-2 M624.74 145.00v2 M624.74 15.00v-2 M628.24 145.00v4 M628.24 15.00v-4 M631.74 145.00v2 M631.74 15.00v-2 M635.24 145.00v2 M635.24 15.00v-2 M638.73 145.00v2 M638.73 15.00v-2 M642.23 145.00v2 M642.23 15.00v-2 M645.73 145.00v4 M645.73 15.00v-4 M649.23 145.00v2 M649.23 15.00v-2 M652.73 145.00v2 M652.73 15.00v-2 M523.30 145.00h-4 M654.50 145.00h4 M523.30 141.53h-2 M654.50 141.53h2 M523.30 138.07h-2 M654.50 138.07h2 M523.30 134.60h-2 M654.50 134.60h2 M523.30 131.14h-2 M654.50 131.14h2 M523.30 127.67h-4 M654.50 127.67h4 M523.30 124.20h-2 M654.50 124.20h2 M523.30 120.74h-2 M654.50 120.74h2 M523.30 117.27h-2 M654.50 117.27h2 M523.30 113.81h-2 M654.50 113.81h2 M523.30 110.34h-4 M654.50 110.34h4 M523.30 106.87h-2 M654.50 106.87h2 M523.30 103.41h-2 M654.50 103.41h2 M523.30 99.94h-2 M654.50 99.94h2 M523.30 96.48h-2 M654.50 96.48h2 M523.30 93.01h-4 M654.50 93.01h4 M523.30 89.54h-2 M654.50 89.54h2 M523.30 86.08h-2 M654.50 86.08h2 M523.30 82.61h-2 M654.50 82.61h2 M523.30 79.15h-2 M654.50 79.15h2 M523.30 75.68h-4 M654.50 75.68h4 M523.30 72.21h-2 M654.50 72.21h2 M523.30 68.75h-2 M654.50 68.75h2 M523.30 65.28h-2 M654.50 65.28h2 M523.30 61.82h-2 M654.50 61.82h2 M523.30 58.35h-4 M654.50 58.35h4 M523.30 54.88h-2 M654.50 54.88h2 M523.30 51.42h-2 M654.50 51.42h2 M523.30 47.95h-2 M654.50 47.95h2 M523.30 44.49h-2 M654.50 44.49h2 M523.30 41.02h-4 M654.50 41.02h4 M523.30 37.55h-2 M654.50 37.55h2 M523.30 34.09h-2 M654.50 34.09h2 M523.30 30.62h-2 M654.50 30.62h2 M523.30 27.16h-2 M654.50 27.16h2 M523.30 23.69h-4 M654.50 23.69h4 M523.30 20.22h-2 M654.50 20.22h2 M523.30 16.76h-2 M654.50 16.76h2" stroke="#333" stroke-width="0.9" fill="none"/><text x="524.30" y="166.80" font-size="13" text-anchor="middle" font-weight="bold" fill="#231f20" stroke="#231f20" stroke-width="0.35" >0</text><text x="561.28" y="166.80" font-size="13" text-anchor="middle" font-weight="bold" fill="#231f20" stroke="#231f20" stroke-width="0.35" >20</text><text x="595.26" y="166.80" font-size="13" text-anchor="middle" font-weight="bold" fill="#231f20" stroke="#231f20" stroke-width="0.35" >40</text><text x="621.50" y="166.80" font-size="13" text-anchor="start" font-weight="bold" fill="#231f20" stroke="#231f20" stroke-width="0.35" >60 μm</text><text x="518.00" y="149.60" font-size="13" text-anchor="end" font-weight="bold" fill="#231f20" stroke="#231f20" stroke-width="0.35" >0</text><text x="518.00" y="132.27" font-size="13" text-anchor="end" font-weight="bold" fill="#231f20" stroke="#231f20" stroke-width="0.35" >10</text><text x="518.00" y="114.94" font-size="13" text-anchor="end" font-weight="bold" fill="#231f20" stroke="#231f20" stroke-width="0.35" >20</text><text x="518.00" y="97.61" font-size="13" text-anchor="end" font-weight="bold" fill="#231f20" stroke="#231f20" stroke-width="0.35" >30</text><text x="518.00" y="80.28" font-size="13" text-anchor="end" font-weight="bold" fill="#231f20" stroke="#231f20" stroke-width="0.35" >40</text><text x="518.00" y="62.95" font-size="13" text-anchor="end" font-weight="bold" fill="#231f20" stroke="#231f20" stroke-width="0.35" >50</text><text x="518.00" y="45.62" font-size="13" text-anchor="end" font-weight="bold" fill="#231f20" stroke="#231f20" stroke-width="0.35" >60</text><text x="518.00" y="28.29" font-size="13" text-anchor="end" font-weight="bold" fill="#231f20" stroke="#231f20" stroke-width="0.35" >70</text><text x="500.00" y="6.60" font-size="13" text-anchor="start" font-weight="bold" fill="#231f20" stroke="#231f20" stroke-width="0.35" >μm</text><rect x="665" y="15.3" width="10.399999999999977" height="131.29999999999998" fill="url(#cbc)" stroke="#231f20" stroke-width="1"/><path d="M675.40 146.60h4 M675.40 138.07h2 M675.40 129.54h2 M675.40 121.01h2 M675.40 112.47h2 M675.40 103.94h4 M675.40 95.41h2 M675.40 86.88h2 M675.40 78.35h2 M675.40 69.82h2 M675.40 61.28h4 M675.40 52.75h2 M675.40 44.22h2 M675.40 35.69h2 M675.40 27.16h2 M675.40 18.63h4" stroke="#333" stroke-width="0.9" fill="none"/><text x="682.00" y="151.00" font-size="13" text-anchor="start" font-weight="bold" fill="#231f20" stroke="#231f20" stroke-width="0.35" >0.0</text><text x="682.00" y="108.34" font-size="13" text-anchor="start" font-weight="bold" fill="#231f20" stroke="#231f20" stroke-width="0.35" >0.5</text><text x="682.00" y="65.68" font-size="13" text-anchor="start" font-weight="bold" fill="#231f20" stroke="#231f20" stroke-width="0.35" >1.0</text><text x="682.00" y="23.03" font-size="13" text-anchor="start" font-weight="bold" fill="#231f20" stroke="#231f20" stroke-width="0.35" >1.5</text><text x="681.00" y="6.60" font-size="13" text-anchor="start" font-weight="bold" fill="#231f20" stroke="#231f20" stroke-width="0.35" >μm</text><rect x="28.5" y="188.8" width="164.30" height="164.40" fill="#98c85e"/><g clip-path="url(#clipd)"><ellipse cx="40" cy="248" rx="46" ry="64" fill="url(#bl10)" /></g><g clip-path="url(#clipd)"><ellipse cx="150" cy="212" rx="60" ry="35" fill="url(#bl11)" /></g><g clip-path="url(#clipd)"><ellipse cx="112" cy="355" rx="68" ry="13" fill="url(#bl12)" /></g><g clip-path="url(#clipd)"><ellipse cx="36" cy="318" rx="34" ry="44" fill="url(#bl13)" /></g><g clip-path="url(#clipd)"><ellipse cx="190" cy="322" rx="25" ry="40" fill="url(#bl14)" /></g><g clip-path="url(#clipd)"><ellipse cx="192" cy="190" rx="18" ry="16" fill="url(#bl15)" /></g><rect x="28.5" y="188.8" width="164.30" height="164.40" filter="url(#nzY)"/><rect x="28.5" y="188.8" width="164.30" height="164.40" filter="url(#nzT)"/><rect x="28.5" y="188.8" width="164.30" height="164.40" filter="url(#nzO)"/><text x="35.00" y="206.50" font-size="13" text-anchor="start" font-weight="bold" fill="#231f20" stroke="#231f20" stroke-width="0.35" >(d)</text><text x="111.80" y="209.00" font-size="13" text-anchor="middle" font-weight="bold" fill="#231f20" stroke="#231f20" stroke-width="0.35" >I</text><text x="81.50" y="241.00" font-size="12.8" text-anchor="start" font-weight="bold" fill="#231f20" stroke="#231f20" stroke-width="0.35" >Sa=0.489 8 nm</text><text x="71.50" y="258.50" font-size="12.8" text-anchor="start" font-weight="bold" fill="#231f20" stroke="#231f20" stroke-width="0.35" >RMS=0.334 0 nm</text><line x1="28.50" y1="265.40" x2="192.80" y2="265.40" stroke="#111" stroke-width="1.8" /><path d="M28.5 261.6 a3.8 3.8 0 0 1 0 7.6z" fill="#e84a64" stroke="#111" stroke-width="0.8"/><path d="M192.8 261.8 a3.6 3.6 0 0 0 0 7.2z" fill="#8cc060" stroke="#111" stroke-width="0.8"/><text x="97.00" y="283.40" font-size="12.8" text-anchor="start" font-weight="bold" fill="#231f20" stroke="#231f20" stroke-width="0.35" >A-A’</text><rect x="28.5" y="188.8" width="164.30" height="164.40" fill="none" stroke="#231f20" stroke-width="1"/><path d="M28.50 353.20v4.8 M28.50 188.80v-4.8 M32.88 353.20v2.6 M32.88 188.80v-2.6 M37.26 353.20v2.6 M37.26 188.80v-2.6 M41.64 353.20v2.6 M41.64 188.80v-2.6 M46.02 353.20v2.6 M46.02 188.80v-2.6 M50.40 353.20v4.8 M50.40 188.80v-4.8 M54.78 353.20v2.6 M54.78 188.80v-2.6 M59.16 353.20v2.6 M59.16 188.80v-2.6 M63.54 353.20v2.6 M63.54 188.80v-2.6 M67.92 353.20v2.6 M67.92 188.80v-2.6 M72.30 353.20v4.8 M72.30 188.80v-4.8 M76.68 353.20v2.6 M76.68 188.80v-2.6 M81.06 353.20v2.6 M81.06 188.80v-2.6 M85.44 353.20v2.6 M85.44 188.80v-2.6 M89.82 353.20v2.6 M89.82 188.80v-2.6 M94.20 353.20v4.8 M94.20 188.80v-4.8 M98.58 353.20v2.6 M98.58 188.80v-2.6 M102.96 353.20v2.6 M102.96 188.80v-2.6 M107.34 353.20v2.6 M107.34 188.80v-2.6 M111.72 353.20v2.6 M111.72 188.80v-2.6 M116.10 353.20v4.8 M116.10 188.80v-4.8 M120.48 353.20v2.6 M120.48 188.80v-2.6 M124.86 353.20v2.6 M124.86 188.80v-2.6 M129.24 353.20v2.6 M129.24 188.80v-2.6 M133.62 353.20v2.6 M133.62 188.80v-2.6 M138.00 353.20v4.8 M138.00 188.80v-4.8 M142.38 353.20v2.6 M142.38 188.80v-2.6 M146.76 353.20v2.6 M146.76 188.80v-2.6 M151.14 353.20v2.6 M151.14 188.80v-2.6 M155.52 353.20v2.6 M155.52 188.80v-2.6 M159.90 353.20v4.8 M159.90 188.80v-4.8 M164.28 353.20v2.6 M164.28 188.80v-2.6 M168.66 353.20v2.6 M168.66 188.80v-2.6 M173.04 353.20v2.6 M173.04 188.80v-2.6 M177.42 353.20v2.6 M177.42 188.80v-2.6 M181.80 353.20v4.8 M181.80 188.80v-4.8 M186.18 353.20v2.6 M186.18 188.80v-2.6 M190.56 353.20v2.6 M190.56 188.80v-2.6 M28.50 353.20h-4.8 M192.80 353.20h4.8 M28.50 348.82h-2.6 M192.80 348.82h2.6 M28.50 344.44h-2.6 M192.80 344.44h2.6 M28.50 340.06h-2.6 M192.80 340.06h2.6 M28.50 335.68h-2.6 M192.80 335.68h2.6 M28.50 331.30h-4.8 M192.80 331.30h4.8 M28.50 326.92h-2.6 M192.80 326.92h2.6 M28.50 322.54h-2.6 M192.80 322.54h2.6 M28.50 318.16h-2.6 M192.80 318.16h2.6 M28.50 313.78h-2.6 M192.80 313.78h2.6 M28.50 309.40h-4.8 M192.80 309.40h4.8 M28.50 305.02h-2.6 M192.80 305.02h2.6 M28.50 300.64h-2.6 M192.80 300.64h2.6 M28.50 296.26h-2.6 M192.80 296.26h2.6 M28.50 291.88h-2.6 M192.80 291.88h2.6 M28.50 287.50h-4.8 M192.80 287.50h4.8 M28.50 283.12h-2.6 M192.80 283.12h2.6 M28.50 278.74h-2.6 M192.80 278.74h2.6 M28.50 274.36h-2.6 M192.80 274.36h2.6 M28.50 269.98h-2.6 M192.80 269.98h2.6 M28.50 265.60h-4.8 M192.80 265.60h4.8 M28.50 261.22h-2.6 M192.80 261.22h2.6 M28.50 256.84h-2.6 M192.80 256.84h2.6 M28.50 252.46h-2.6 M192.80 252.46h2.6 M28.50 248.08h-2.6 M192.80 248.08h2.6 M28.50 243.70h-4.8 M192.80 243.70h4.8 M28.50 239.32h-2.6 M192.80 239.32h2.6 M28.50 234.94h-2.6 M192.80 234.94h2.6 M28.50 230.56h-2.6 M192.80 230.56h2.6 M28.50 226.18h-2.6 M192.80 226.18h2.6 M28.50 221.80h-4.8 M192.80 221.80h4.8 M28.50 217.42h-2.6 M192.80 217.42h2.6 M28.50 213.04h-2.6 M192.80 213.04h2.6 M28.50 208.66h-2.6 M192.80 208.66h2.6 M28.50 204.28h-2.6 M192.80 204.28h2.6 M28.50 199.90h-4.8 M192.80 199.90h4.8 M28.50 195.52h-2.6 M192.80 195.52h2.6 M28.50 191.14h-2.6 M192.80 191.14h2.6" stroke="#333" stroke-width="0.9" fill="none"/><text x="30.80" y="373.30" font-size="13" text-anchor="middle" font-weight="bold" fill="#231f20" stroke="#231f20" stroke-width="0.35" >0</text><text x="76.70" y="373.30" font-size="13" text-anchor="middle" font-weight="bold" fill="#231f20" stroke="#231f20" stroke-width="0.35" >20</text><text x="118.70" y="373.30" font-size="13" text-anchor="middle" font-weight="bold" fill="#231f20" stroke="#231f20" stroke-width="0.35" >40</text><text x="153.70" y="373.30" font-size="13" text-anchor="start" font-weight="bold" fill="#231f20" stroke="#231f20" stroke-width="0.35" >60 μm</text><text x="18.80" y="357.80" font-size="13" text-anchor="end" font-weight="bold" fill="#231f20" stroke="#231f20" stroke-width="0.35" >0</text><text x="18.80" y="335.90" font-size="13" text-anchor="end" font-weight="bold" fill="#231f20" stroke="#231f20" stroke-width="0.35" >10</text><text x="18.80" y="314.00" font-size="13" text-anchor="end" font-weight="bold" fill="#231f20" stroke="#231f20" stroke-width="0.35" >20</text><text x="18.80" y="292.10" font-size="13" text-anchor="end" font-weight="bold" fill="#231f20" stroke="#231f20" stroke-width="0.35" >30</text><text x="18.80" y="270.20" font-size="13" text-anchor="end" font-weight="bold" fill="#231f20" stroke="#231f20" stroke-width="0.35" >40</text><text x="18.80" y="248.30" font-size="13" text-anchor="end" font-weight="bold" fill="#231f20" stroke="#231f20" stroke-width="0.35" >50</text><text x="18.80" y="226.40" font-size="13" text-anchor="end" font-weight="bold" fill="#231f20" stroke="#231f20" stroke-width="0.35" >60</text><text x="18.80" y="204.50" font-size="13" text-anchor="end" font-weight="bold" fill="#231f20" stroke="#231f20" stroke-width="0.35" >70</text><text x="1.50" y="185.80" font-size="13" text-anchor="start" font-weight="bold" fill="#231f20" stroke="#231f20" stroke-width="0.35" >μm</text><rect x="203.2" y="188.8" width="13.300000000000011" height="163.2" fill="url(#cbd)" stroke="#231f20" stroke-width="1"/><path d="M216.50 352.00h4 M216.50 342.98h2 M216.50 333.97h2 M216.50 324.95h2 M216.50 315.93h2 M216.50 306.92h4 M216.50 297.90h2 M216.50 288.88h2 M216.50 279.87h2 M216.50 270.85h2 M216.50 261.83h4 M216.50 252.82h2 M216.50 243.80h2 M216.50 234.78h2 M216.50 225.77h2 M216.50 216.75h4 M216.50 207.73h2 M216.50 198.72h2 M216.50 189.70h2" stroke="#333" stroke-width="0.9" fill="none"/><text x="223.50" y="312.52" font-size="13" text-anchor="start" font-weight="bold" fill="#231f20" stroke="#231f20" stroke-width="0.35" >5</text><text x="223.50" y="267.43" font-size="13" text-anchor="start" font-weight="bold" fill="#231f20" stroke="#231f20" stroke-width="0.35" >10</text><text x="223.50" y="222.35" font-size="13" text-anchor="start" font-weight="bold" fill="#231f20" stroke="#231f20" stroke-width="0.35" >15</text><text x="223.50" y="354.00" font-size="13" text-anchor="start" font-weight="bold" fill="#231f20" stroke="#231f20" stroke-width="0.35" >0</text><text x="218.00" y="185.80" font-size="13" text-anchor="start" font-weight="bold" fill="#231f20" stroke="#231f20" stroke-width="0.35" >nm</text><rect x="266.4" y="188.6" width="163.90" height="164.00" fill="#8cc468"/><g clip-path="url(#clipe)"><ellipse cx="288" cy="258" rx="46" ry="66" fill="url(#bl18)" /></g><g clip-path="url(#clipe)"><ellipse cx="365" cy="208" rx="80" ry="28" fill="url(#bl19)" /></g><g clip-path="url(#clipe)"><ellipse cx="410" cy="245" rx="35" ry="35" fill="url(#bl20)" /></g><g clip-path="url(#clipe)"><ellipse cx="345" cy="322" rx="85" ry="26" fill="url(#bl21)" /></g><g clip-path="url(#clipe)"><ellipse cx="412" cy="355" rx="46" ry="12" fill="url(#bl22)" /></g><g clip-path="url(#clipe)"><ellipse cx="428" cy="194" rx="10" ry="14" fill="url(#bl23)" /></g><rect x="266.4" y="188.6" width="163.90" height="164.00" filter="url(#nzY)"/><rect x="266.4" y="188.6" width="163.90" height="164.00" filter="url(#nzT)"/><rect x="266.4" y="188.6" width="163.90" height="164.00" filter="url(#nzO)"/><text x="273.00" y="206.50" font-size="13" text-anchor="start" font-weight="bold" fill="#231f20" stroke="#231f20" stroke-width="0.35" >(e)</text><text x="350.00" y="209.50" font-size="13" text-anchor="middle" font-weight="bold" fill="#231f20" stroke="#231f20" stroke-width="0.35" >II</text><text x="317.60" y="242.00" font-size="12.8" text-anchor="start" font-weight="bold" fill="#231f20" stroke="#231f20" stroke-width="0.35" >Sa=0.537 2 nm</text><text x="311.00" y="260.00" font-size="12.8" text-anchor="start" font-weight="bold" fill="#231f20" stroke="#231f20" stroke-width="0.35" >RMS=0.409 6 nm</text><line x1="266.40" y1="273.20" x2="430.30" y2="273.20" stroke="#111" stroke-width="1.8" /><path d="M266.4 269.4 a3.8 3.8 0 0 1 0 7.6z" fill="#e84a64" stroke="#111" stroke-width="0.8"/><path d="M430.3 269.6 a3.6 3.6 0 0 0 0 7.2z" fill="#8cc060" stroke="#111" stroke-width="0.8"/><text x="342.60" y="289.00" font-size="12.8" text-anchor="start" font-weight="bold" fill="#231f20" stroke="#231f20" stroke-width="0.35" >B-B’</text><rect x="266.4" y="188.6" width="163.90" height="164.00" fill="none" stroke="#231f20" stroke-width="1"/><path d="M266.40 352.60v4.8 M266.40 188.60v-4.8 M270.77 352.60v2.6 M270.77 188.60v-2.6 M275.14 352.60v2.6 M275.14 188.60v-2.6 M279.51 352.60v2.6 M279.51 188.60v-2.6 M283.88 352.60v2.6 M283.88 188.60v-2.6 M288.25 352.60v4.8 M288.25 188.60v-4.8 M292.62 352.60v2.6 M292.62 188.60v-2.6 M296.99 352.60v2.6 M296.99 188.60v-2.6 M301.36 352.60v2.6 M301.36 188.60v-2.6 M305.73 352.60v2.6 M305.73 188.60v-2.6 M310.10 352.60v4.8 M310.10 188.60v-4.8 M314.47 352.60v2.6 M314.47 188.60v-2.6 M318.84 352.60v2.6 M318.84 188.60v-2.6 M323.21 352.60v2.6 M323.21 188.60v-2.6 M327.58 352.60v2.6 M327.58 188.60v-2.6 M331.95 352.60v4.8 M331.95 188.60v-4.8 M336.32 352.60v2.6 M336.32 188.60v-2.6 M340.69 352.60v2.6 M340.69 188.60v-2.6 M345.06 352.60v2.6 M345.06 188.60v-2.6 M349.43 352.60v2.6 M349.43 188.60v-2.6 M353.80 352.60v4.8 M353.80 188.60v-4.8 M358.17 352.60v2.6 M358.17 188.60v-2.6 M362.54 352.60v2.6 M362.54 188.60v-2.6 M366.91 352.60v2.6 M366.91 188.60v-2.6 M371.28 352.60v2.6 M371.28 188.60v-2.6 M375.65 352.60v4.8 M375.65 188.60v-4.8 M380.02 352.60v2.6 M380.02 188.60v-2.6 M384.39 352.60v2.6 M384.39 188.60v-2.6 M388.76 352.60v2.6 M388.76 188.60v-2.6 M393.13 352.60v2.6 M393.13 188.60v-2.6 M397.50 352.60v4.8 M397.50 188.60v-4.8 M401.87 352.60v2.6 M401.87 188.60v-2.6 M406.24 352.60v2.6 M406.24 188.60v-2.6 M410.61 352.60v2.6 M410.61 188.60v-2.6 M414.98 352.60v2.6 M414.98 188.60v-2.6 M419.35 352.60v4.8 M419.35 188.60v-4.8 M423.72 352.60v2.6 M423.72 188.60v-2.6 M428.09 352.60v2.6 M428.09 188.60v-2.6 M266.40 352.60h-4.8 M430.30 352.60h4.8 M266.40 348.23h-2.6 M430.30 348.23h2.6 M266.40 343.85h-2.6 M430.30 343.85h2.6 M266.40 339.48h-2.6 M430.30 339.48h2.6 M266.40 335.10h-2.6 M430.30 335.10h2.6 M266.40 330.73h-4.8 M430.30 330.73h4.8 M266.40 326.36h-2.6 M430.30 326.36h2.6 M266.40 321.98h-2.6 M430.30 321.98h2.6 M266.40 317.61h-2.6 M430.30 317.61h2.6 M266.40 313.23h-2.6 M430.30 313.23h2.6 M266.40 308.86h-4.8 M430.30 308.86h4.8 M266.40 304.49h-2.6 M430.30 304.49h2.6 M266.40 300.11h-2.6 M430.30 300.11h2.6 M266.40 295.74h-2.6 M430.30 295.74h2.6 M266.40 291.36h-2.6 M430.30 291.36h2.6 M266.40 286.99h-4.8 M430.30 286.99h4.8 M266.40 282.62h-2.6 M430.30 282.62h2.6 M266.40 278.24h-2.6 M430.30 278.24h2.6 M266.40 273.87h-2.6 M430.30 273.87h2.6 M266.40 269.49h-2.6 M430.30 269.49h2.6 M266.40 265.12h-4.8 M430.30 265.12h4.8 M266.40 260.75h-2.6 M430.30 260.75h2.6 M266.40 256.37h-2.6 M430.30 256.37h2.6 M266.40 252.00h-2.6 M430.30 252.00h2.6 M266.40 247.62h-2.6 M430.30 247.62h2.6 M266.40 243.25h-4.8 M430.30 243.25h4.8 M266.40 238.88h-2.6 M430.30 238.88h2.6 M266.40 234.50h-2.6 M430.30 234.50h2.6 M266.40 230.13h-2.6 M430.30 230.13h2.6 M266.40 225.75h-2.6 M430.30 225.75h2.6 M266.40 221.38h-4.8 M430.30 221.38h4.8 M266.40 217.01h-2.6 M430.30 217.01h2.6 M266.40 212.63h-2.6 M430.30 212.63h2.6 M266.40 208.26h-2.6 M430.30 208.26h2.6 M266.40 203.88h-2.6 M430.30 203.88h2.6 M266.40 199.51h-4.8 M430.30 199.51h4.8 M266.40 195.14h-2.6 M430.30 195.14h2.6 M266.40 190.76h-2.6 M430.30 190.76h2.6" stroke="#333" stroke-width="0.9" fill="none"/><text x="267.40" y="373.30" font-size="13" text-anchor="middle" font-weight="bold" fill="#231f20" stroke="#231f20" stroke-width="0.35" >0</text><text x="312.70" y="373.30" font-size="13" text-anchor="middle" font-weight="bold" fill="#231f20" stroke="#231f20" stroke-width="0.35" >20</text><text x="355.10" y="373.30" font-size="13" text-anchor="middle" font-weight="bold" fill="#231f20" stroke="#231f20" stroke-width="0.35" >40</text><text x="390.20" y="373.30" font-size="13" text-anchor="start" font-weight="bold" fill="#231f20" stroke="#231f20" stroke-width="0.35" >60 μm</text><text x="257.30" y="357.20" font-size="13" text-anchor="end" font-weight="bold" fill="#231f20" stroke="#231f20" stroke-width="0.35" >0</text><text x="257.30" y="335.33" font-size="13" text-anchor="end" font-weight="bold" fill="#231f20" stroke="#231f20" stroke-width="0.35" >10</text><text x="257.30" y="313.46" font-size="13" text-anchor="end" font-weight="bold" fill="#231f20" stroke="#231f20" stroke-width="0.35" >20</text><text x="257.30" y="291.59" font-size="13" text-anchor="end" font-weight="bold" fill="#231f20" stroke="#231f20" stroke-width="0.35" >30</text><text x="257.30" y="269.72" font-size="13" text-anchor="end" font-weight="bold" fill="#231f20" stroke="#231f20" stroke-width="0.35" >40</text><text x="257.30" y="247.85" font-size="13" text-anchor="end" font-weight="bold" fill="#231f20" stroke="#231f20" stroke-width="0.35" >50</text><text x="257.30" y="225.98" font-size="13" text-anchor="end" font-weight="bold" fill="#231f20" stroke="#231f20" stroke-width="0.35" >60</text><text x="257.30" y="204.11" font-size="13" text-anchor="end" font-weight="bold" fill="#231f20" stroke="#231f20" stroke-width="0.35" >70</text><text x="243.00" y="185.80" font-size="13" text-anchor="start" font-weight="bold" fill="#231f20" stroke="#231f20" stroke-width="0.35" >μm</text><rect x="440.4" y="188.8" width="13.100000000000023" height="163.7" fill="url(#cbe)" stroke="#231f20" stroke-width="1"/><path d="M453.50 352.50h4 M453.50 345.09h2 M453.50 337.69h2 M453.50 330.28h2 M453.50 322.87h2 M453.50 315.46h4 M453.50 308.06h2 M453.50 300.65h2 M453.50 293.24h2 M453.50 285.83h2 M453.50 278.43h4 M453.50 271.02h2 M453.50 263.61h2 M453.50 256.21h2 M453.50 248.80h2 M453.50 241.39h4 M453.50 233.98h2 M453.50 226.58h2 M453.50 219.17h2 M453.50 211.76h2 M453.50 204.36h4 M453.50 196.95h2 M453.50 189.54h2" stroke="#333" stroke-width="0.9" fill="none"/><text x="460.50" y="356.90" font-size="13" text-anchor="start" font-weight="bold" fill="#231f20" stroke="#231f20" stroke-width="0.35" >0</text><text x="460.50" y="319.86" font-size="13" text-anchor="start" font-weight="bold" fill="#231f20" stroke="#231f20" stroke-width="0.35" >5</text><text x="460.50" y="282.83" font-size="13" text-anchor="start" font-weight="bold" fill="#231f20" stroke="#231f20" stroke-width="0.35" >10</text><text x="460.50" y="245.79" font-size="13" text-anchor="start" font-weight="bold" fill="#231f20" stroke="#231f20" stroke-width="0.35" >15</text><text x="460.50" y="208.76" font-size="13" text-anchor="start" font-weight="bold" fill="#231f20" stroke="#231f20" stroke-width="0.35" >20</text><text x="456.50" y="185.80" font-size="13" text-anchor="start" font-weight="bold" fill="#231f20" stroke="#231f20" stroke-width="0.35" >nm</text><path d="M502.30 224.30 L502.77 208.30 L503.23 216.30 L503.70 224.30 L504.16 216.30 L504.63 224.30 L505.10 232.30 L505.56 224.30 L506.03 232.30 L506.49 224.30 L506.96 232.30 L507.43 232.30 L507.89 224.30 L508.36 216.30 L508.82 232.30 L509.29 232.30 L509.76 224.30 L510.22 216.30 L510.69 224.30 L511.15 224.30 L511.62 216.30 L512.09 232.30 L512.55 216.30 L513.02 232.30 L513.48 232.30 L513.95 232.30 L514.42 224.30 L514.88 216.30 L515.35 232.30 L515.81 224.30 L516.28 224.30 L516.75 224.30 L517.21 224.30 L517.68 232.30 L518.14 232.30 L518.61 232.30 L519.08 224.30 L519.54 224.30 L520.01 224.30 L520.47 224.30 L520.94 224.30 L521.41 232.30 L521.87 216.30 L522.34 200.30 L522.80 232.30 L523.27 224.30 L523.74 224.30 L524.20 216.30 L524.67 216.30 L525.13 232.30 L525.60 216.30 L526.07 232.30 L526.53 224.30 L527.00 216.30 L527.46 232.30 L527.93 224.30 L528.40 232.30 L528.86 224.30 L529.33 216.30 L529.79 224.30 L530.26 216.30 L530.73 224.30 L531.19 208.30 L531.66 224.30 L532.12 224.30 L532.59 224.30 L533.06 216.30 L533.52 216.30 L533.99 224.30 L534.45 224.30 L534.92 232.30 L535.39 216.30 L535.85 224.30 L536.32 216.30 L536.78 216.30 L537.25 232.30 L537.72 224.30 L538.18 224.30 L538.65 232.30 L539.11 224.30 L539.58 232.30 L540.05 232.30 L540.51 232.30 L540.98 216.30 L541.44 232.30 L541.91 232.30 L542.38 224.30 L542.84 216.30 L543.31 232.30 L543.77 224.30 L544.24 224.30 L544.71 216.30 L545.17 216.30 L545.64 216.30 L546.10 232.30 L546.57 224.30 L547.04 224.30 L547.50 216.30 L547.97 216.30 L548.43 232.30 L548.90 232.30 L549.37 232.30 L549.83 232.30 L550.30 224.30 L550.76 224.30 L551.23 232.30 L551.70 232.30 L552.16 224.30 L552.63 224.30 L553.09 224.30 L553.56 216.30 L554.03 224.30 L554.49 224.30 L554.96 224.30 L555.42 224.30 L555.89 232.30 L556.36 216.30 L556.82 216.30 L557.29 216.30 L557.75 216.30 L558.22 224.30 L558.69 224.30 L559.15 232.30 L559.62 224.30 L560.08 232.30 L560.55 232.30 L561.02 232.30 L561.48 232.30 L561.95 224.30 L562.41 232.30 L562.88 232.30 L563.35 232.30 L563.81 232.30 L564.28 224.30 L564.74 232.30 L565.21 216.30 L565.68 224.30 L566.14 232.30 L566.61 232.30 L567.07 224.30 L567.54 224.30 L568.01 232.30 L568.47 216.30 L568.94 216.30 L569.40 224.30 L569.87 224.30 L570.34 232.30 L570.80 232.30 L571.27 224.30 L571.73 232.30 L572.20 216.30 L572.67 232.30 L573.13 232.30 L573.60 216.30 L574.06 224.30 L574.53 232.30 L575.00 224.30 L575.46 232.30 L575.93 224.30 L576.39 216.30 L576.86 216.30 L577.33 224.30 L577.79 232.30 L578.26 224.30 L578.72 232.30 L579.19 224.30 L579.66 224.30 L580.12 224.30 L580.59 224.30 L581.05 232.30 L581.52 216.30 L581.99 216.30 L582.45 216.30 L582.92 216.30 L583.38 216.30 L583.85 224.30 L584.32 232.30 L584.78 224.30 L585.25 224.30 L585.71 232.30 L586.18 232.30 L586.65 232.30 L587.11 232.30 L587.58 240.30 L588.04 224.30 L588.51 232.30 L588.98 224.30 L589.44 224.30 L589.91 224.30 L590.37 232.30 L590.84 232.30 L591.31 232.30 L591.77 232.30 L592.24 232.30 L592.70 224.30 L593.17 224.30 L593.64 224.30 L594.10 232.30 L594.57 224.30 L595.03 224.30 L595.50 232.30 L595.97 224.30 L596.43 224.30 L596.90 224.30 L597.36 224.30 L597.83 240.30 L598.30 232.30 L598.76 224.30 L599.23 232.30 L599.69 224.30 L600.16 224.30 L600.63 232.30 L601.09 232.30 L601.56 224.30 L602.02 224.30 L602.49 232.30 L602.96 232.30 L603.42 232.30 L603.89 240.30 L604.35 224.30 L604.82 232.30 L605.29 224.30 L605.75 224.30 L606.22 224.30 L606.68 232.30 L607.15 232.30 L607.62 232.30 L608.08 240.30 L608.55 224.30 L609.01 224.30 L609.48 232.30 L609.95 224.30 L610.41 232.30 L610.88 216.30 L611.34 224.30 L611.81 232.30 L612.28 232.30 L612.74 232.30 L613.21 240.30 L613.67 232.30 L614.14 240.30 L614.61 240.30 L615.07 240.30 L615.54 224.30 L616.00 240.30 L616.47 232.30 L616.94 232.30 L617.40 224.30 L617.87 240.30 L618.33 224.30 L618.80 232.30 L619.27 248.30 L619.73 232.30 L620.20 248.30 L620.66 232.30 L621.13 240.30 L621.60 248.30 L622.06 232.30 L622.53 240.30 L622.99 232.30 L623.46 232.30 L623.93 232.30 L624.39 240.30 L624.86 232.30 L625.32 232.30 L625.79 232.30 L626.26 240.30 L626.72 232.30 L627.19 248.30 L627.65 240.30 L628.12 232.30 L628.59 232.30 L629.05 232.30 L629.52 216.30 L629.98 224.30 L630.45 232.30 L630.92 232.30 L631.38 232.30 L631.85 232.30 L632.31 232.30 L632.78 232.30 L633.25 232.30 L633.71 232.30 L634.18 224.30 L634.64 232.30 L635.11 232.30 L635.58 224.30 L636.04 240.30 L636.51 232.30 L636.97 224.30 L637.44 232.30 L637.91 240.30 L638.37 240.30 L638.84 232.30 L639.30 240.30 L639.77 240.30 L640.24 240.30 L640.70 232.30 L641.17 232.30 L641.63 224.30 L642.10 240.30 L642.57 232.30 L643.03 232.30 L643.50 240.30 L643.96 224.30 L644.43 224.30 L644.90 240.30 L645.36 224.30 L645.83 240.30 L646.29 232.30 L646.76 224.30 L647.23 232.30 L647.69 240.30 L648.16 240.30 L648.62 240.30 L649.09 240.30 L649.56 248.30 L650.02 240.30 L650.49 232.30 L650.95 256.30 L651.42 240.30 L651.89 240.30 L652.35 256.30 L652.82 240.30 L653.28 232.30 L653.75 240.30 L654.22 248.30 L654.68 232.30 L655.15 232.30 L655.61 232.30 L656.08 248.30 L656.55 240.30 L657.01 248.30 L657.48 232.30 L657.94 240.30 L658.41 248.30 L658.88 240.30 L659.34 232.30 L659.81 232.30 L660.27 240.30 L660.74 248.30 L661.21 232.30 L661.67 240.30 L662.14 232.30 L662.60 248.30 L663.07 248.30 L663.54 232.30 L664.00 240.30 L664.47 248.30 L664.93 232.30 L665.40 232.30 L665.87 232.30 L666.33 248.30 L666.80 232.30 L667.26 248.30 L667.73 232.30 L668.20 240.30 L668.66 240.30 L669.13 256.30 L669.59 232.30 L670.06 240.30 L670.53 248.30 L670.99 256.30 L671.46 240.30 L671.92 248.30 L672.39 248.30 L672.86 248.30 L673.32 248.30 L673.79 240.30 L674.25 240.30 L674.72 232.30 L675.19 240.30 L675.65 240.30 L676.12 248.30 L676.58 240.30" fill="none" stroke="#2a7bc4" stroke-width="1.05" clip-path="url(#clipf)"/><rect x="502.3" y="196.1" width="175.30" height="64.30" fill="none" stroke="#231f20" stroke-width="1"/><path d="M502.30 196.10v-4 M502.30 260.40v4 M513.95 196.10v-2 M513.95 260.40v2 M525.60 196.10v-4 M525.60 260.40v4 M537.25 196.10v-2 M537.25 260.40v2 M548.90 196.10v-4 M548.90 260.40v4 M560.55 196.10v-2 M560.55 260.40v2 M572.20 196.10v-4 M572.20 260.40v4 M583.85 196.10v-2 M583.85 260.40v2 M595.50 196.10v-4 M595.50 260.40v4 M607.15 196.10v-2 M607.15 260.40v2 M618.80 196.10v-4 M618.80 260.40v4 M630.45 196.10v-2 M630.45 260.40v2 M642.10 196.10v-4 M642.10 260.40v4 M653.75 196.10v-2 M653.75 260.40v2 M665.40 196.10v-4 M665.40 260.40v4 M677.05 196.10v-2 M677.05 260.40v2 M502.30 256.30h-2 M677.60 256.30h2 M502.30 248.30h-4 M677.60 248.30h4 M502.30 240.30h-2 M677.60 240.30h2 M502.30 232.30h-4 M677.60 232.30h4 M502.30 224.30h-2 M677.60 224.30h2 M502.30 216.30h-4 M677.60 216.30h4 M502.30 208.30h-2 M677.60 208.30h2 M502.30 200.30h-4 M677.60 200.30h4" stroke="#333" stroke-width="0.9" fill="none"/><text x="502.80" y="277.20" font-size="13" text-anchor="middle" font-weight="bold" fill="#231f20" stroke="#231f20" stroke-width="0.35" >0</text><text x="527.90" y="277.20" font-size="13" text-anchor="middle" font-weight="bold" fill="#231f20" stroke="#231f20" stroke-width="0.35" >10</text><text x="551.20" y="277.20" font-size="13" text-anchor="middle" font-weight="bold" fill="#231f20" stroke="#231f20" stroke-width="0.35" >20</text><text x="574.50" y="277.20" font-size="13" text-anchor="middle" font-weight="bold" fill="#231f20" stroke="#231f20" stroke-width="0.35" >30</text><text x="597.80" y="277.20" font-size="13" text-anchor="middle" font-weight="bold" fill="#231f20" stroke="#231f20" stroke-width="0.35" >40</text><text x="621.10" y="277.20" font-size="13" text-anchor="middle" font-weight="bold" fill="#231f20" stroke="#231f20" stroke-width="0.35" >50</text><text x="644.40" y="277.20" font-size="13" text-anchor="middle" font-weight="bold" fill="#231f20" stroke="#231f20" stroke-width="0.35" >60</text><text x="660.40" y="277.20" font-size="13" text-anchor="start" font-weight="bold" fill="#231f20" stroke="#231f20" stroke-width="0.35" >70 μm</text><text x="496.80" y="204.90" font-size="13" text-anchor="end" font-weight="bold" fill="#231f20" stroke="#231f20" stroke-width="0.35" >4</text><text x="496.80" y="220.90" font-size="13" text-anchor="end" font-weight="bold" fill="#231f20" stroke="#231f20" stroke-width="0.35" >2</text><text x="496.80" y="236.90" font-size="13" text-anchor="end" font-weight="bold" fill="#231f20" stroke="#231f20" stroke-width="0.35" >0</text><text x="496.80" y="252.90" font-size="13" text-anchor="end" font-weight="bold" fill="#231f20" stroke="#231f20" stroke-width="0.35" >−2</text><text x="579.00" y="211.00" font-size="12.8" text-anchor="start" font-weight="bold" fill="#231f20" stroke="#231f20" stroke-width="0.35" >A-A’</text><text x="657.50" y="212.00" font-size="13" text-anchor="start" font-weight="bold" fill="#231f20" stroke="#231f20" stroke-width="0.35" >(f)</text><text x="484.00" y="185.20" font-size="13" text-anchor="start" font-weight="bold" fill="#231f20" stroke="#231f20" stroke-width="0.35" >nm</text><path d="M502.20 341.50 L502.67 332.30 L503.13 332.30 L503.60 341.50 L504.06 332.30 L504.53 332.30 L505.00 341.50 L505.46 332.30 L505.93 332.30 L506.39 323.10 L506.86 341.50 L507.33 341.50 L507.79 341.50 L508.26 332.30 L508.72 332.30 L509.19 341.50 L509.66 332.30 L510.12 332.30 L510.59 332.30 L511.05 323.10 L511.52 350.70 L511.99 350.70 L512.45 341.50 L512.92 313.90 L513.38 350.70 L513.85 350.70 L514.32 350.70 L514.78 341.50 L515.25 341.50 L515.71 332.30 L516.18 323.10 L516.65 341.50 L517.11 341.50 L517.58 341.50 L518.04 341.50 L518.51 350.70 L518.98 323.10 L519.44 332.30 L519.91 341.50 L520.37 341.50 L520.84 350.70 L521.31 350.70 L521.77 350.70 L522.24 350.70 L522.70 341.50 L523.17 350.70 L523.64 332.30 L524.10 350.70 L524.57 332.30 L525.03 341.50 L525.50 350.70 L525.97 350.70 L526.43 341.50 L526.90 350.70 L527.36 341.50 L527.83 350.70 L528.30 350.70 L528.76 341.50 L529.23 341.50 L529.69 350.70 L530.16 350.70 L530.63 350.70 L531.09 341.50 L531.56 341.50 L532.02 350.70 L532.49 350.70 L532.96 350.70 L533.42 350.70 L533.89 341.50 L534.35 350.70 L534.82 341.50 L535.29 350.70 L535.75 350.70 L536.22 341.50 L536.68 350.70 L537.15 341.50 L537.62 350.70 L538.08 350.70 L538.55 350.70 L539.01 350.70 L539.48 341.50 L539.95 341.50 L540.41 350.70 L540.88 341.50 L541.34 350.70 L541.81 350.70 L542.28 341.50 L542.74 341.50 L543.21 350.70 L543.67 341.50 L544.14 350.70 L544.61 350.70 L545.07 341.50 L545.54 350.70 L546.00 350.70 L546.47 350.70 L546.94 350.70 L547.40 341.50 L547.87 350.70 L548.33 341.50 L548.80 350.70 L549.27 350.70 L549.73 341.50 L550.20 350.70 L550.66 341.50 L551.13 341.50 L551.60 350.70 L552.06 350.70 L552.53 341.50 L552.99 341.50 L553.46 350.70 L553.93 350.70 L554.39 341.50 L554.86 359.90 L555.32 350.70 L555.79 332.30 L556.26 341.50 L556.72 341.50 L557.19 350.70 L557.65 350.70 L558.12 350.70 L558.59 341.50 L559.05 350.70 L559.52 350.70 L559.98 350.70 L560.45 350.70 L560.92 350.70 L561.38 350.70 L561.85 350.70 L562.31 350.70 L562.78 350.70 L563.25 350.70 L563.71 350.70 L564.18 341.50 L564.64 350.70 L565.11 350.70 L565.58 341.50 L566.04 350.70 L566.51 350.70 L566.97 350.70 L567.44 350.70 L567.91 350.70 L568.37 350.70 L568.84 350.70 L569.30 350.70 L569.77 350.70 L570.24 350.70 L570.70 350.70 L571.17 341.50 L571.63 350.70 L572.10 350.70 L572.57 350.70 L573.03 350.70 L573.50 350.70 L573.96 350.70 L574.43 350.70 L574.90 350.70 L575.36 341.50 L575.83 350.70 L576.29 341.50 L576.76 350.70 L577.23 341.50 L577.69 350.70 L578.16 341.50 L578.62 350.70 L579.09 341.50 L579.56 341.50 L580.02 341.50 L580.49 341.50 L580.95 341.50 L581.42 341.50 L581.89 341.50 L582.35 350.70 L582.82 341.50 L583.28 341.50 L583.75 341.50 L584.22 350.70 L584.68 341.50 L585.15 359.90 L585.61 341.50 L586.08 341.50 L586.55 350.70 L587.01 359.90 L587.48 341.50 L587.94 350.70 L588.41 341.50 L588.88 341.50 L589.34 341.50 L589.81 341.50 L590.27 350.70 L590.74 341.50 L591.21 341.50 L591.67 350.70 L592.14 341.50 L592.60 350.70 L593.07 341.50 L593.54 350.70 L594.00 359.90 L594.47 350.70 L594.93 350.70 L595.40 350.70 L595.87 350.70 L596.33 350.70 L596.80 341.50 L597.26 350.70 L597.73 350.70 L598.20 350.70 L598.66 350.70 L599.13 350.70 L599.59 350.70 L600.06 341.50 L600.53 350.70 L600.99 350.70 L601.46 341.50 L601.92 350.70 L602.39 350.70 L602.86 350.70 L603.32 350.70 L603.79 350.70 L604.25 341.50 L604.72 341.50 L605.19 350.70 L605.65 350.70 L606.12 350.70 L606.58 350.70 L607.05 359.90 L607.52 341.50 L607.98 359.90 L608.45 341.50 L608.91 341.50 L609.38 350.70 L609.85 350.70 L610.31 350.70 L610.78 350.70 L611.24 350.70 L611.71 350.70 L612.18 341.50 L612.64 350.70 L613.11 350.70 L613.57 341.50 L614.04 341.50 L614.51 350.70 L614.97 350.70 L615.44 350.70 L615.90 341.50 L616.37 350.70 L616.84 341.50 L617.30 341.50 L617.77 350.70 L618.23 350.70 L618.70 350.70 L619.17 350.70 L619.63 350.70 L620.10 350.70 L620.56 350.70 L621.03 350.70 L621.50 350.70 L621.96 350.70 L622.43 341.50 L622.89 350.70 L623.36 341.50 L623.83 341.50 L624.29 359.90 L624.76 341.50 L625.22 359.90 L625.69 350.70 L626.16 350.70 L626.62 350.70 L627.09 350.70 L627.55 350.70 L628.02 341.50 L628.49 350.70 L628.95 350.70 L629.42 350.70 L629.88 341.50 L630.35 341.50 L630.82 341.50 L631.28 341.50 L631.75 350.70 L632.21 341.50 L632.68 341.50 L633.15 350.70 L633.61 341.50 L634.08 341.50 L634.54 350.70 L635.01 350.70 L635.48 341.50 L635.94 341.50 L636.41 350.70 L636.87 341.50 L637.34 341.50 L637.81 359.90 L638.27 341.50 L638.74 350.70 L639.20 341.50 L639.67 350.70 L640.14 341.50 L640.60 341.50 L641.07 341.50 L641.53 341.50 L642.00 350.70 L642.47 341.50 L642.93 341.50 L643.40 341.50 L643.86 350.70 L644.33 332.30 L644.80 350.70 L645.26 341.50 L645.73 341.50 L646.19 350.70 L646.66 350.70 L647.13 350.70 L647.59 350.70 L648.06 350.70 L648.52 350.70 L648.99 350.70 L649.46 350.70 L649.92 350.70 L650.39 350.70 L650.85 350.70 L651.32 350.70 L651.79 350.70 L652.25 350.70 L652.72 359.90 L653.18 350.70 L653.65 359.90 L654.12 350.70 L654.58 350.70 L655.05 341.50 L655.51 350.70 L655.98 341.50 L656.45 350.70 L656.91 350.70 L657.38 341.50 L657.84 350.70 L658.31 341.50 L658.78 341.50 L659.24 341.50 L659.71 341.50 L660.17 341.50 L660.64 350.70 L661.11 350.70 L661.57 341.50 L662.04 341.50 L662.50 350.70 L662.97 341.50 L663.44 341.50 L663.90 341.50 L664.37 341.50 L664.83 332.30 L665.30 341.50 L665.77 341.50 L666.23 350.70 L666.70 350.70 L667.16 341.50 L667.63 350.70 L668.10 350.70 L668.56 350.70 L669.03 350.70 L669.49 350.70 L669.96 350.70 L670.43 350.70 L670.89 350.70 L671.36 350.70 L671.82 341.50 L672.29 341.50 L672.76 350.70 L673.22 359.90 L673.69 369.10 L674.15 350.70 L674.62 350.70 L675.09 341.50 L675.55 350.70 L676.02 350.70 L676.48 350.70" fill="none" stroke="#2a7bc4" stroke-width="1.05" clip-path="url(#clipg)"/><rect x="502.2" y="309.4" width="175.00" height="64.50" fill="none" stroke="#231f20" stroke-width="1"/><path d="M502.20 309.40v-4 M502.20 373.90v4 M513.85 309.40v-2 M513.85 373.90v2 M525.50 309.40v-4 M525.50 373.90v4 M537.15 309.40v-2 M537.15 373.90v2 M548.80 309.40v-4 M548.80 373.90v4 M560.45 309.40v-2 M560.45 373.90v2 M572.10 309.40v-4 M572.10 373.90v4 M583.75 309.40v-2 M583.75 373.90v2 M595.40 309.40v-4 M595.40 373.90v4 M607.05 309.40v-2 M607.05 373.90v2 M618.70 309.40v-4 M618.70 373.90v4 M630.35 309.40v-2 M630.35 373.90v2 M642.00 309.40v-4 M642.00 373.90v4 M653.65 309.40v-2 M653.65 373.90v2 M665.30 309.40v-4 M665.30 373.90v4 M676.95 309.40v-2 M676.95 373.90v2 M502.20 369.10h-4 M677.20 369.10h4 M502.20 359.90h-2 M677.20 359.90h2 M502.20 350.70h-4 M677.20 350.70h4 M502.20 341.50h-2 M677.20 341.50h2 M502.20 332.30h-4 M677.20 332.30h4 M502.20 323.10h-2 M677.20 323.10h2 M502.20 313.90h-4 M677.20 313.90h4" stroke="#333" stroke-width="0.9" fill="none"/><text x="502.70" y="394.80" font-size="13" text-anchor="middle" font-weight="bold" fill="#231f20" stroke="#231f20" stroke-width="0.35" >0</text><text x="527.80" y="394.80" font-size="13" text-anchor="middle" font-weight="bold" fill="#231f20" stroke="#231f20" stroke-width="0.35" >10</text><text x="551.10" y="394.80" font-size="13" text-anchor="middle" font-weight="bold" fill="#231f20" stroke="#231f20" stroke-width="0.35" >20</text><text x="574.40" y="394.80" font-size="13" text-anchor="middle" font-weight="bold" fill="#231f20" stroke="#231f20" stroke-width="0.35" >30</text><text x="597.70" y="394.80" font-size="13" text-anchor="middle" font-weight="bold" fill="#231f20" stroke="#231f20" stroke-width="0.35" >40</text><text x="621.00" y="394.80" font-size="13" text-anchor="middle" font-weight="bold" fill="#231f20" stroke="#231f20" stroke-width="0.35" >50</text><text x="644.30" y="394.80" font-size="13" text-anchor="middle" font-weight="bold" fill="#231f20" stroke="#231f20" stroke-width="0.35" >60</text><text x="660.30" y="394.80" font-size="13" text-anchor="start" font-weight="bold" fill="#231f20" stroke="#231f20" stroke-width="0.35" >70 μm</text><text x="496.80" y="318.50" font-size="13" text-anchor="end" font-weight="bold" fill="#231f20" stroke="#231f20" stroke-width="0.35" >4</text><text x="496.80" y="336.90" font-size="13" text-anchor="end" font-weight="bold" fill="#231f20" stroke="#231f20" stroke-width="0.35" >2</text><text x="496.80" y="355.30" font-size="13" text-anchor="end" font-weight="bold" fill="#231f20" stroke="#231f20" stroke-width="0.35" >0</text><text x="496.80" y="373.70" font-size="13" text-anchor="end" font-weight="bold" fill="#231f20" stroke="#231f20" stroke-width="0.35" >−2</text><text x="579.50" y="327.60" font-size="12.8" text-anchor="start" font-weight="bold" fill="#231f20" stroke="#231f20" stroke-width="0.35" >B-B’</text><text x="656.50" y="327.20" font-size="13" text-anchor="start" font-weight="bold" fill="#231f20" stroke="#231f20" stroke-width="0.35" >(g)</text><text x="483.50" y="298.00" font-size="13" text-anchor="start" font-weight="bold" fill="#231f20" stroke="#231f20" stroke-width="0.35" >nm</text><path d="M501.6 488.2 L503.4 489.6 L505.1 488.9 L506.8 487.5 L508.3 487.0 L509.9 485.9 L511.4 485.1 L512.9 482.8 L515.0 472.6 L516.8 468.8 L518.6 463.7 L520.2 468.2 L521.8 470.5 L523.5 468.3 L525.1 468.5 L527.2 471.2 L528.7 468.8 L530.2 466.5 L531.7 469.2 L533.2 470.0 L534.7 471.2 L536.4 465.8 L538.1 458.3 L539.7 457.1 L541.2 457.8 L542.8 457.6 L544.5 462.7 L546.2 469.2 L547.6 465.4 L549.0 461.5 L550.3 456.2 L551.7 453.5 L553.0 451.8 L554.4 451.5 L555.8 452.8 L557.1 456.2 L558.5 457.0 L560.1 452.0 L561.6 444.8 L563.2 440.0 L565.3 442.7 L567.0 449.6 L568.7 454.9 L570.4 456.7 L572.0 460.3 L574.1 467.8 L575.8 470.9 L577.5 473.3 L579.1 466.9 L580.6 461.1 L582.2 457.0 L583.6 464.4 L585.0 455.6 L586.4 467.9 L588.6 470.7 L590.7 474.3 L592.2 473.5 L593.6 470.7 L595.0 468.9 L596.4 468.6 L598.6 467.9 L600.0 468.6 L602.1 455.7 L603.5 455.9 L605.0 458.9 L606.4 458.6 L607.8 462.4 L609.3 463.7 L610.7 467.1 L612.9 477.1 L614.3 479.3 L615.7 479.1 L617.1 480.0 L618.5 478.0 L620.0 475.0 L621.8 473.9 L623.6 474.3 L625.7 477.1 L627.1 474.3 L628.5 469.7 L630.0 466.5 L631.4 461.4 L632.8 467.1 L634.3 470.7 L635.7 470.5 L637.1 471.4 L639.3 473.6 L641.1 469.6 L642.9 466.4 L645.0 469.3 L646.4 465.8 L647.9 463.1 L649.3 461.4 L650.7 462.4 L652.2 465.2 L653.6 467.9 L655.0 465.1 L656.5 460.5 L657.9 459.2 L659.3 455.7 L660.7 467.9 L662.9 451.4 L664.6 455.6 L666.4 460.7 L668.1 465.9 L669.7 473.0 L671.4 477.9 L672.8 475.2 L674.3 472.2 L675.7 470.0 L677.9 477.9 L679.6 474.3" fill="none" stroke="#2a7bc4" stroke-width="1.3" stroke-linejoin="round"/><rect x="501.8" y="432.2" width="177.80" height="66.00" fill="none" stroke="#231f20" stroke-width="1"/><path d="M501.80 432.20v-4 M501.80 498.20v4 M513.60 432.20v-2 M513.60 498.20v2 M525.40 432.20v-4 M525.40 498.20v4 M537.20 432.20v-2 M537.20 498.20v2 M549.00 432.20v-4 M549.00 498.20v4 M560.80 432.20v-2 M560.80 498.20v2 M572.60 432.20v-4 M572.60 498.20v4 M584.40 432.20v-2 M584.40 498.20v2 M596.20 432.20v-4 M596.20 498.20v4 M608.00 432.20v-2 M608.00 498.20v2 M619.80 432.20v-4 M619.80 498.20v4 M631.60 432.20v-2 M631.60 498.20v2 M643.40 432.20v-4 M643.40 498.20v4 M655.20 432.20v-2 M655.20 498.20v2 M667.00 432.20v-4 M667.00 498.20v4 M678.80 432.20v-2 M678.80 498.20v2 M501.80 489.70h-2 M679.60 489.70h2 M501.80 474.70h-4 M679.60 474.70h4 M501.80 459.70h-2 M679.60 459.70h2 M501.80 444.70h-4 M679.60 444.70h4" stroke="#333" stroke-width="0.9" fill="none"/><text x="503.00" y="518.80" font-size="13" text-anchor="middle" font-weight="bold" fill="#231f20" stroke="#231f20" stroke-width="0.35" >0</text><text x="528.60" y="518.80" font-size="13" text-anchor="middle" font-weight="bold" fill="#231f20" stroke="#231f20" stroke-width="0.35" >10</text><text x="552.20" y="518.80" font-size="13" text-anchor="middle" font-weight="bold" fill="#231f20" stroke="#231f20" stroke-width="0.35" >20</text><text x="575.80" y="518.80" font-size="13" text-anchor="middle" font-weight="bold" fill="#231f20" stroke="#231f20" stroke-width="0.35" >30</text><text x="599.40" y="518.80" font-size="13" text-anchor="middle" font-weight="bold" fill="#231f20" stroke="#231f20" stroke-width="0.35" >40</text><text x="623.00" y="518.80" font-size="13" text-anchor="middle" font-weight="bold" fill="#231f20" stroke="#231f20" stroke-width="0.35" >50</text><text x="646.60" y="518.80" font-size="13" text-anchor="middle" font-weight="bold" fill="#231f20" stroke="#231f20" stroke-width="0.35" >60</text><text x="661.50" y="518.80" font-size="13" text-anchor="start" font-weight="bold" fill="#231f20" stroke="#231f20" stroke-width="0.35" >70 μm</text><text x="495.00" y="479.30" font-size="13" text-anchor="end" font-weight="bold" fill="#231f20" stroke="#231f20" stroke-width="0.35" >0</text><text x="495.00" y="449.30" font-size="13" text-anchor="end" font-weight="bold" fill="#231f20" stroke="#231f20" stroke-width="0.35" >500</text><text x="578.40" y="448.60" font-size="12.8" text-anchor="start" font-weight="bold" fill="#231f20" stroke="#231f20" stroke-width="0.35" >C-C’</text><text x="651.50" y="447.20" font-size="13" text-anchor="start" font-weight="bold" fill="#231f20" stroke="#231f20" stroke-width="0.35" >(j)</text><text x="478.00" y="426.20" font-size="13" text-anchor="start" font-weight="bold" fill="#231f20" stroke="#231f20" stroke-width="0.35" >nm</text><g clip-path="url(#cliph)"><rect x="28.5" y="399.7" width="207.80" height="129.60" fill="#f09a3a"/><g filter="url(#blur8)"><ellipse cx="165.0" cy="409.5" rx="45.0" ry="10.5" fill="#e4c040" fill-opacity="0.6"/><ellipse cx="236.0" cy="480.0" rx="14.0" ry="50.0" fill="#e2c040" fill-opacity="0.7"/><ellipse cx="140.0" cy="462.0" rx="105.0" ry="26.0" fill="#ea7630" fill-opacity="0.85" transform="rotate(-35 140 462)"/><ellipse cx="95.0" cy="505.0" rx="30.0" ry="20.0" fill="#ec7e32" fill-opacity="0.6"/><ellipse cx="208.5" cy="510.0" rx="28.5" ry="20.0" fill="#eeb040" fill-opacity="0.45"/><ellipse cx="87.5" cy="422.5" rx="27.5" ry="17.5" fill="#eeb040" fill-opacity="0.4"/><ellipse cx="38.0" cy="500.0" rx="10.0" ry="30.0" fill="#e2c846" fill-opacity="0.8"/></g><rect x="28.5" y="399.7" width="207.80" height="129.60" filter="url(#nzH)"/><rect x="28.5" y="399.7" width="207.80" height="129.60" filter="url(#nzR)"/><g filter="url(#wob)"><path d="M28 399 L74 399 L74 409 L62 414 L50 422 L46 428 L56 432 L64 444 L67 458 L74 470 L74 480 L60 482 L48 479 L40 470 L36 452 L28 446Z" fill="#dcd244" fill-opacity="1"/><ellipse cx="166.0" cy="409.5" rx="20.0" ry="10.5" fill="#dcd244" fill-opacity="1"/><ellipse cx="139.0" cy="415.5" rx="7.0" ry="10.5" fill="#dcd244" fill-opacity="0.7"/><ellipse cx="216.0" cy="415.5" rx="13.0" ry="9.5" fill="#dcd244" fill-opacity="1"/><ellipse cx="194.0" cy="438.5" rx="12.0" ry="7.5" fill="#dcd244" fill-opacity="0.85"/><ellipse cx="196.5" cy="457.5" rx="11.5" ry="8.5" fill="#dcd244" fill-opacity="1"/><ellipse cx="230.0" cy="454.5" rx="7.0" ry="11.5" fill="#dcd244" fill-opacity="0.7"/><ellipse cx="105.5" cy="507.5" rx="10.5" ry="8.5" fill="#dcd244" fill-opacity="1"/><ellipse cx="107.5" cy="522.5" rx="14.5" ry="7.5" fill="#dcd244" fill-opacity="1"/><ellipse cx="147.5" cy="503.0" rx="10.5" ry="9.0" fill="#dcd244" fill-opacity="1"/><ellipse cx="147.5" cy="519.0" rx="14.5" ry="11.0" fill="#dcd244" fill-opacity="0.7"/><ellipse cx="216.0" cy="495.0" rx="10.0" ry="11.0" fill="#dcd244" fill-opacity="1" transform="rotate(30 216.0 495.0)"/><ellipse cx="127.5" cy="519.0" rx="9.5" ry="11.0" fill="#dcd244" fill-opacity="1"/><ellipse cx="129.0" cy="455.0" rx="10.0" ry="7.0" fill="#dcd244" fill-opacity="1" transform="rotate(-25 129.0 455.0)"/><ellipse cx="197.0" cy="469.0" rx="11.0" ry="9.0" fill="#dcd244" fill-opacity="1"/><ellipse cx="184.0" cy="525.0" rx="8.0" ry="5.0" fill="#dcd244" fill-opacity="1"/><ellipse cx="53.0" cy="491.5" rx="11.0" ry="7.5" fill="#dcd244" fill-opacity="1"/></g><g filter="url(#blur1)"><ellipse cx="84.5" cy="412.0" rx="4.5" ry="4.0" fill="#dcd244" fill-opacity="0.7"/><ellipse cx="105.0" cy="410.0" rx="5.0" ry="4.0" fill="#dcd244" fill-opacity="0.7"/><ellipse cx="124.5" cy="414.0" rx="6.5" ry="5.0" fill="#c4d24c" fill-opacity="0.8"/><ellipse cx="126.5" cy="431.5" rx="5.5" ry="5.5" fill="#dcd244" fill-opacity="0.7"/><ellipse cx="83.5" cy="449.0" rx="4.5" ry="4.0" fill="#dcd244" fill-opacity="0.7"/><ellipse cx="77.5" cy="460.5" rx="6.5" ry="4.5" fill="#dcd244" fill-opacity="0.7"/><ellipse cx="104.5" cy="489.5" rx="7.5" ry="5.5" fill="#dcd244" fill-opacity="0.8"/><ellipse cx="183.0" cy="478.0" rx="6.0" ry="4.0" fill="#dcd244" fill-opacity="0.8"/><ellipse cx="33.0" cy="504.5" rx="5.0" ry="4.5" fill="#9cc85c" fill-opacity="1"/><ellipse cx="30.5" cy="523.5" rx="2.5" ry="4.5" fill="#9cc85c" fill-opacity="1"/></g><g filter="url(#wob)"><path d="M28 399 L70 399 L70 405 L60 410 L48 416 L40 426 L37 436 L48 435 L59 443 L62 457 L66 469 L60 476 L48 476 L41 469 L38 455 L28 443Z" fill="#9cc85c" fill-opacity="1"/><ellipse cx="164.0" cy="407.5" rx="14.0" ry="8.5" fill="#9cc85c" fill-opacity="1"/><ellipse cx="214.5" cy="414.5" rx="8.5" ry="6.5" fill="#9cc85c" fill-opacity="1"/><ellipse cx="188.5" cy="439.5" rx="5.5" ry="6.5" fill="#9cc85c" fill-opacity="1"/><ellipse cx="200.5" cy="437.5" rx="4.5" ry="4.5" fill="#c4d24c" fill-opacity="1"/><ellipse cx="189.5" cy="454.5" rx="3.5" ry="4.5" fill="#c4d24c" fill-opacity="1"/><ellipse cx="201.0" cy="459.0" rx="6.0" ry="6.0" fill="#9cc85c" fill-opacity="1"/><ellipse cx="106.0" cy="508.0" rx="6.0" ry="6.0" fill="#c4d24c" fill-opacity="1"/><ellipse cx="108.0" cy="523.0" rx="12.0" ry="7.0" fill="#9cc85c" fill-opacity="1"/><ellipse cx="129.0" cy="454.5" rx="7.0" ry="4.5" fill="#c4d24c" fill-opacity="1" transform="rotate(-25 129.0 454.5)"/><ellipse cx="148.0" cy="503.5" rx="6.0" ry="6.5" fill="#9cc85c" fill-opacity="1"/><ellipse cx="216.0" cy="495.5" rx="6.0" ry="7.5" fill="#c4d24c" fill-opacity="1" transform="rotate(30 216.0 495.5)"/><ellipse cx="196.5" cy="469.0" rx="7.5" ry="7.0" fill="#c4d24c" fill-opacity="1"/><ellipse cx="127.0" cy="521.0" rx="6.0" ry="9.0" fill="#9cc85c" fill-opacity="1"/></g><g filter="url(#wob2)"><path d="M45 399 L69 399 L68 405 L58 408 L48 407Z" fill="#66b6ae" fill-opacity="1"/><path d="M29 408 L37 407 L38 414 L31 416Z" fill="#48aed6" fill-opacity="1"/><ellipse cx="46.0" cy="434.5" rx="8.0" ry="6.0" fill="#66b6ae" fill-opacity="1"/><ellipse cx="51.0" cy="453.5" rx="8.5" ry="6.0" fill="#66b6ae" fill-opacity="1"/><ellipse cx="52.5" cy="466.0" rx="9.5" ry="8.0" fill="#48aed6" fill-opacity="1"/><ellipse cx="162.5" cy="408.0" rx="8.5" ry="7.0" fill="#80bc74" fill-opacity="1"/><ellipse cx="214.5" cy="414.5" rx="7.5" ry="5.5" fill="#66b6ae" fill-opacity="1"/><ellipse cx="201.0" cy="459.5" rx="5.0" ry="4.5" fill="#80bc74" fill-opacity="1"/><ellipse cx="106.0" cy="508.0" rx="5.0" ry="5.0" fill="#80bc74" fill-opacity="1"/><ellipse cx="117.0" cy="523.5" rx="4.0" ry="3.5" fill="#66b6ae" fill-opacity="1"/><ellipse cx="148.0" cy="503.0" rx="5.0" ry="5.0" fill="#80bc74" fill-opacity="1"/></g></g><rect x="113.7" y="440.8" width="43.3" height="43.2" fill="none" stroke="#111" stroke-width="2" stroke-dasharray="2.6 1.9"/><text x="133.30" y="467.70" font-size="13" text-anchor="middle" font-weight="bold" fill="#231f20" stroke="#231f20" stroke-width="0.35" >III</text><text x="35.50" y="421.50" font-size="13" text-anchor="start" font-weight="bold" fill="#231f20" stroke="#231f20" stroke-width="0.35" >(h)</text><rect x="28.5" y="399.7" width="207.80" height="129.60" fill="none" stroke="#231f20" stroke-width="1"/><path d="M28.50 529.30v6.3 M28.50 399.70v-6.3 M34.13 529.30v2.7 M34.13 399.70v-2.7 M39.76 529.30v2.7 M39.76 399.70v-2.7 M45.39 529.30v2.7 M45.39 399.70v-2.7 M51.02 529.30v2.7 M51.02 399.70v-2.7 M56.65 529.30v3.8 M56.65 399.70v-3.8 M62.28 529.30v2.7 M62.28 399.70v-2.7 M67.91 529.30v2.7 M67.91 399.70v-2.7 M73.54 529.30v2.7 M73.54 399.70v-2.7 M79.17 529.30v2.7 M79.17 399.70v-2.7 M84.80 529.30v6.3 M84.80 399.70v-6.3 M90.43 529.30v2.7 M90.43 399.70v-2.7 M96.06 529.30v2.7 M96.06 399.70v-2.7 M101.69 529.30v2.7 M101.69 399.70v-2.7 M107.32 529.30v2.7 M107.32 399.70v-2.7 M112.95 529.30v3.8 M112.95 399.70v-3.8 M118.58 529.30v2.7 M118.58 399.70v-2.7 M124.21 529.30v2.7 M124.21 399.70v-2.7 M129.84 529.30v2.7 M129.84 399.70v-2.7 M135.47 529.30v2.7 M135.47 399.70v-2.7 M141.10 529.30v6.3 M141.10 399.70v-6.3 M146.73 529.30v2.7 M146.73 399.70v-2.7 M152.36 529.30v2.7 M152.36 399.70v-2.7 M157.99 529.30v2.7 M157.99 399.70v-2.7 M163.62 529.30v2.7 M163.62 399.70v-2.7 M169.25 529.30v3.8 M169.25 399.70v-3.8 M174.88 529.30v2.7 M174.88 399.70v-2.7 M180.51 529.30v2.7 M180.51 399.70v-2.7 M186.14 529.30v2.7 M186.14 399.70v-2.7 M191.77 529.30v2.7 M191.77 399.70v-2.7 M197.40 529.30v6.3 M197.40 399.70v-6.3 M203.03 529.30v2.7 M203.03 399.70v-2.7 M208.66 529.30v2.7 M208.66 399.70v-2.7 M214.29 529.30v2.7 M214.29 399.70v-2.7 M219.92 529.30v2.7 M219.92 399.70v-2.7 M225.55 529.30v3.8 M225.55 399.70v-3.8 M231.18 529.30v2.7 M231.18 399.70v-2.7 M28.50 529.30h-6.3 M236.30 529.30h6.3 M28.50 523.64h-2.7 M236.30 523.64h2.7 M28.50 517.98h-2.7 M236.30 517.98h2.7 M28.50 512.32h-2.7 M236.30 512.32h2.7 M28.50 506.66h-2.7 M236.30 506.66h2.7 M28.50 501.00h-6.3 M236.30 501.00h6.3 M28.50 495.34h-2.7 M236.30 495.34h2.7 M28.50 489.68h-2.7 M236.30 489.68h2.7 M28.50 484.02h-2.7 M236.30 484.02h2.7 M28.50 478.36h-2.7 M236.30 478.36h2.7 M28.50 472.70h-6.3 M236.30 472.70h6.3 M28.50 467.04h-2.7 M236.30 467.04h2.7 M28.50 461.38h-2.7 M236.30 461.38h2.7 M28.50 455.72h-2.7 M236.30 455.72h2.7 M28.50 450.06h-2.7 M236.30 450.06h2.7 M28.50 444.40h-6.3 M236.30 444.40h6.3 M28.50 438.74h-2.7 M236.30 438.74h2.7 M28.50 433.08h-2.7 M236.30 433.08h2.7 M28.50 427.42h-2.7 M236.30 427.42h2.7 M28.50 421.76h-2.7 M236.30 421.76h2.7 M28.50 416.10h-6.3 M236.30 416.10h6.3 M28.50 410.44h-2.7 M236.30 410.44h2.7 M28.50 404.78h-2.7 M236.30 404.78h2.7" stroke="#333" stroke-width="0.9" fill="none"/><text x="30.70" y="549.80" font-size="13" text-anchor="middle" font-weight="bold" fill="#231f20" stroke="#231f20" stroke-width="0.35" >0</text><text x="87.30" y="549.80" font-size="13" text-anchor="middle" font-weight="bold" fill="#231f20" stroke="#231f20" stroke-width="0.35" >100</text><text x="144.90" y="549.80" font-size="13" text-anchor="middle" font-weight="bold" fill="#231f20" stroke="#231f20" stroke-width="0.35" >200</text><text x="192.00" y="549.80" font-size="13" text-anchor="start" font-weight="bold" fill="#231f20" stroke="#231f20" stroke-width="0.35" >300 μm</text><text x="20.00" y="533.90" font-size="13" text-anchor="end" font-weight="bold" fill="#231f20" stroke="#231f20" stroke-width="0.35" >0</text><text x="20.00" y="505.60" font-size="13" text-anchor="end" font-weight="bold" fill="#231f20" stroke="#231f20" stroke-width="0.35" >50</text><text x="20.00" y="477.30" font-size="13" text-anchor="end" font-weight="bold" fill="#231f20" stroke="#231f20" stroke-width="0.35" >100</text><text x="20.00" y="449.00" font-size="13" text-anchor="end" font-weight="bold" fill="#231f20" stroke="#231f20" stroke-width="0.35" >150</text><text x="20.00" y="420.70" font-size="13" text-anchor="end" font-weight="bold" fill="#231f20" stroke="#231f20" stroke-width="0.35" >200</text><text x="1.50" y="389.80" font-size="13" text-anchor="start" font-weight="bold" fill="#231f20" stroke="#231f20" stroke-width="0.35" >μm</text><rect x="244.5" y="400.3" width="10.0" height="128.99999999999994" fill="url(#cbh)" stroke="#231f20" stroke-width="1"/><path d="M254.50 529.30h4 M254.50 521.80h2 M254.50 514.30h4 M254.50 506.80h2 M254.50 499.30h4 M254.50 491.80h2 M254.50 484.30h4 M254.50 476.80h2 M254.50 469.30h4 M254.50 461.80h2 M254.50 454.30h4 M254.50 446.80h2 M254.50 439.30h4 M254.50 431.80h2 M254.50 424.30h4 M254.50 416.80h2 M254.50 409.30h4 M254.50 401.80h2" stroke="#333" stroke-width="0.9" fill="none"/><text x="262.00" y="533.70" font-size="13" text-anchor="start" font-weight="bold" fill="#231f20" stroke="#231f20" stroke-width="0.35" >0</text><text x="262.00" y="518.70" font-size="13" text-anchor="start" font-weight="bold" fill="#231f20" stroke="#231f20" stroke-width="0.35" >1</text><text x="262.00" y="503.70" font-size="13" text-anchor="start" font-weight="bold" fill="#231f20" stroke="#231f20" stroke-width="0.35" >2</text><text x="262.00" y="488.70" font-size="13" text-anchor="start" font-weight="bold" fill="#231f20" stroke="#231f20" stroke-width="0.35" >3</text><text x="262.00" y="473.70" font-size="13" text-anchor="start" font-weight="bold" fill="#231f20" stroke="#231f20" stroke-width="0.35" >4</text><text x="262.00" y="458.70" font-size="13" text-anchor="start" font-weight="bold" fill="#231f20" stroke="#231f20" stroke-width="0.35" >5</text><text x="262.00" y="443.70" font-size="13" text-anchor="start" font-weight="bold" fill="#231f20" stroke="#231f20" stroke-width="0.35" >6</text><text x="262.00" y="428.70" font-size="13" text-anchor="start" font-weight="bold" fill="#231f20" stroke="#231f20" stroke-width="0.35" >7</text><text x="262.00" y="413.70" font-size="13" text-anchor="start" font-weight="bold" fill="#231f20" stroke="#231f20" stroke-width="0.35" >8</text><text x="256.50" y="396.50" font-size="13" text-anchor="start" font-weight="bold" fill="#231f20" stroke="#231f20" stroke-width="0.35" >μm</text><g clip-path="url(#clipi)"><rect x="303.2" y="400.6" width="129.10" height="129.20" fill="#d8da48"/><g filter="url(#blur4)"><ellipse cx="325.0" cy="412.0" rx="28.0" ry="18.0" fill="#e8c444" fill-opacity="0.7"/><ellipse cx="420.0" cy="440.0" rx="16.0" ry="40.0" fill="#e4cc46" fill-opacity="0.6"/><ellipse cx="372.0" cy="468.0" rx="40.0" ry="9.0" fill="#eebc44" fill-opacity="0.6"/><ellipse cx="345.0" cy="505.0" rx="40.0" ry="18.0" fill="#dccc48" fill-opacity="0.5"/><ellipse cx="320.0" cy="515.0" rx="20.0" ry="15.0" fill="#bcd04c" fill-opacity="0.6"/><ellipse cx="410.0" cy="515.0" rx="25.0" ry="15.0" fill="#bcd04c" fill-opacity="0.5"/></g><rect x="303.2" y="400.6" width="129.10" height="129.20" filter="url(#nzG)"/><rect x="303.2" y="400.6" width="129.10" height="129.20" filter="url(#nzV)"/><rect x="303.2" y="478" width="129.10" height="52" fill="#c4d652" fill-opacity="0.08"/><g filter="url(#wob)"><path d="M311.6 466 L316.4 451.6 L325.9 444.5 L337.9 434.9 L349.8 425.3 L364.2 415.7 L378.6 408.6 L392.9 403.8 L402.5 406.2 L404.9 418.1 L400.1 434.9 L392.9 451.6 L380.9 461.2 L369 468.4 L349.8 470.8 L325.9 470.8Z" fill="#a8cc58" fill-opacity="1"/></g><g filter="url(#wob2)"><ellipse cx="361.8" cy="437.3" rx="36.0" ry="15.0" fill="#8cc468" fill-opacity="1" transform="rotate(-30 361.8 437.3)"/><ellipse cx="359.4" cy="440.9" rx="21.5" ry="9.0" fill="#6cbc90" fill-opacity="1" transform="rotate(-25 359.4 440.9)"/><ellipse cx="357.0" cy="443.0" rx="10.0" ry="5.0" fill="#58b4b0" fill-opacity="1" transform="rotate(-25 357 443)"/></g><g filter="url(#blur2)"><path d="M320 399 L328 399 L340 425 L341 436 L334 436 L326 420Z" fill="#f09a3c" fill-opacity="0.85"/><ellipse cx="378.0" cy="470.0" rx="30.0" ry="4.0" fill="#f0a840" fill-opacity="0.6"/><ellipse cx="320.0" cy="405.0" rx="16.0" ry="8.0" fill="#eeb040" fill-opacity="0.6"/></g><g filter="url(#blur1)"><ellipse cx="332.0" cy="436.0" rx="3.0" ry="2.0" fill="#e84a2c" fill-opacity="1"/><ellipse cx="419.0" cy="423.0" rx="2.2" ry="5.0" fill="#e84a2c" fill-opacity="1" transform="rotate(-30 419 423)"/><ellipse cx="426.4" cy="432.5" rx="3.0" ry="2.0" fill="#e85a2c" fill-opacity="1"/><ellipse cx="378.6" cy="506.6" rx="1.5" ry="3.0" fill="#e84a2c" fill-opacity="1" transform="rotate(-20 378.6 506.6)"/></g></g><text x="372.60" y="421.70" font-size="13" text-anchor="middle" font-weight="bold" fill="#231f20" stroke="#231f20" stroke-width="0.35" >III</text><text x="314.00" y="422.00" font-size="13" text-anchor="start" font-weight="bold" fill="#231f20" stroke="#231f20" stroke-width="0.35" >(i)</text><text x="341.30" y="448.00" font-size="12.8" text-anchor="start" font-weight="bold" fill="#231f20" stroke="#231f20" stroke-width="0.35" >Sa=97.26 nm</text><text x="329.30" y="464.80" font-size="12.8" text-anchor="start" font-weight="bold" fill="#231f20" stroke="#231f20" stroke-width="0.35" >RMS=75.42 nm</text><line x1="303.20" y1="477.20" x2="432.30" y2="477.20" stroke="#111" stroke-width="1.8" /><path d="M303.2 473.6 a3.6 3.6 0 0 1 0 7.2z" fill="#e84a64" stroke="#111" stroke-width="0.8"/><path d="M432.3 474 a3.2 3.2 0 0 0 0 6.4z" fill="#70b870" stroke="#111" stroke-width="0.8"/><text x="358.20" y="494.00" font-size="12.8" text-anchor="start" font-weight="bold" fill="#231f20" stroke="#231f20" stroke-width="0.35" >C-C’</text><rect x="303.2" y="400.6" width="129.10" height="129.20" fill="none" stroke="#231f20" stroke-width="1"/><path d="M303.20 529.80v4 M303.20 400.60v-4 M306.64 529.80v2 M306.64 400.60v-2 M310.08 529.80v2 M310.08 400.60v-2 M313.53 529.80v2 M313.53 400.60v-2 M316.97 529.80v2 M316.97 400.60v-2 M320.41 529.80v4 M320.41 400.60v-4 M323.85 529.80v2 M323.85 400.60v-2 M327.29 529.80v2 M327.29 400.60v-2 M330.74 529.80v2 M330.74 400.60v-2 M334.18 529.80v2 M334.18 400.60v-2 M337.62 529.80v4 M337.62 400.60v-4 M341.06 529.80v2 M341.06 400.60v-2 M344.50 529.80v2 M344.50 400.60v-2 M347.95 529.80v2 M347.95 400.60v-2 M351.39 529.80v2 M351.39 400.60v-2 M354.83 529.80v4 M354.83 400.60v-4 M358.27 529.80v2 M358.27 400.60v-2 M361.71 529.80v2 M361.71 400.60v-2 M365.16 529.80v2 M365.16 400.60v-2 M368.60 529.80v2 M368.60 400.60v-2 M372.04 529.80v4 M372.04 400.60v-4 M375.48 529.80v2 M375.48 400.60v-2 M378.92 529.80v2 M378.92 400.60v-2 M382.37 529.80v2 M382.37 400.60v-2 M385.81 529.80v2 M385.81 400.60v-2 M389.25 529.80v4 M389.25 400.60v-4 M392.69 529.80v2 M392.69 400.60v-2 M396.13 529.80v2 M396.13 400.60v-2 M399.58 529.80v2 M399.58 400.60v-2 M403.02 529.80v2 M403.02 400.60v-2 M406.46 529.80v4 M406.46 400.60v-4 M409.90 529.80v2 M409.90 400.60v-2 M413.34 529.80v2 M413.34 400.60v-2 M416.79 529.80v2 M416.79 400.60v-2 M420.23 529.80v2 M420.23 400.60v-2 M423.67 529.80v4 M423.67 400.60v-4 M427.11 529.80v2 M427.11 400.60v-2 M430.55 529.80v2 M430.55 400.60v-2 M303.20 529.80h-4 M432.30 529.80h4 M303.20 526.36h-2 M432.30 526.36h2 M303.20 522.92h-2 M432.30 522.92h2 M303.20 519.47h-2 M432.30 519.47h2 M303.20 516.03h-2 M432.30 516.03h2 M303.20 512.59h-4 M432.30 512.59h4 M303.20 509.15h-2 M432.30 509.15h2 M303.20 505.71h-2 M432.30 505.71h2 M303.20 502.26h-2 M432.30 502.26h2 M303.20 498.82h-2 M432.30 498.82h2 M303.20 495.38h-4 M432.30 495.38h4 M303.20 491.94h-2 M432.30 491.94h2 M303.20 488.50h-2 M432.30 488.50h2 M303.20 485.05h-2 M432.30 485.05h2 M303.20 481.61h-2 M432.30 481.61h2 M303.20 478.17h-4 M432.30 478.17h4 M303.20 474.73h-2 M432.30 474.73h2 M303.20 471.29h-2 M432.30 471.29h2 M303.20 467.84h-2 M432.30 467.84h2 M303.20 464.40h-2 M432.30 464.40h2 M303.20 460.96h-4 M432.30 460.96h4 M303.20 457.52h-2 M432.30 457.52h2 M303.20 454.08h-2 M432.30 454.08h2 M303.20 450.63h-2 M432.30 450.63h2 M303.20 447.19h-2 M432.30 447.19h2 M303.20 443.75h-4 M432.30 443.75h4 M303.20 440.31h-2 M432.30 440.31h2 M303.20 436.87h-2 M432.30 436.87h2 M303.20 433.42h-2 M432.30 433.42h2 M303.20 429.98h-2 M432.30 429.98h2 M303.20 426.54h-4 M432.30 426.54h4 M303.20 423.10h-2 M432.30 423.10h2 M303.20 419.66h-2 M432.30 419.66h2 M303.20 416.21h-2 M432.30 416.21h2 M303.20 412.77h-2 M432.30 412.77h2 M303.20 409.33h-4 M432.30 409.33h4 M303.20 405.89h-2 M432.30 405.89h2 M303.20 402.45h-2 M432.30 402.45h2" stroke="#333" stroke-width="0.9" fill="none"/><text x="303.90" y="548.80" font-size="13" text-anchor="middle" font-weight="bold" fill="#231f20" stroke="#231f20" stroke-width="0.35" >0</text><text x="340.82" y="548.80" font-size="13" text-anchor="middle" font-weight="bold" fill="#231f20" stroke="#231f20" stroke-width="0.35" >20</text><text x="374.14" y="548.80" font-size="13" text-anchor="middle" font-weight="bold" fill="#231f20" stroke="#231f20" stroke-width="0.35" >40</text><text x="401.20" y="548.80" font-size="13" text-anchor="start" font-weight="bold" fill="#231f20" stroke="#231f20" stroke-width="0.35" >60 μm</text><text x="297.00" y="534.40" font-size="13" text-anchor="end" font-weight="bold" fill="#231f20" stroke="#231f20" stroke-width="0.35" >0</text><text x="297.00" y="517.19" font-size="13" text-anchor="end" font-weight="bold" fill="#231f20" stroke="#231f20" stroke-width="0.35" >10</text><text x="297.00" y="499.98" font-size="13" text-anchor="end" font-weight="bold" fill="#231f20" stroke="#231f20" stroke-width="0.35" >20</text><text x="297.00" y="482.77" font-size="13" text-anchor="end" font-weight="bold" fill="#231f20" stroke="#231f20" stroke-width="0.35" >30</text><text x="297.00" y="465.56" font-size="13" text-anchor="end" font-weight="bold" fill="#231f20" stroke="#231f20" stroke-width="0.35" >40</text><text x="297.00" y="448.35" font-size="13" text-anchor="end" font-weight="bold" fill="#231f20" stroke="#231f20" stroke-width="0.35" >50</text><text x="297.00" y="431.14" font-size="13" text-anchor="end" font-weight="bold" fill="#231f20" stroke="#231f20" stroke-width="0.35" >60</text><text x="297.00" y="413.93" font-size="13" text-anchor="end" font-weight="bold" fill="#231f20" stroke="#231f20" stroke-width="0.35" >70</text><text x="279.50" y="396.50" font-size="13" text-anchor="start" font-weight="bold" fill="#231f20" stroke="#231f20" stroke-width="0.35" >μm</text><rect x="442.6" y="398.8" width="10.599999999999966" height="130.49999999999994" fill="url(#cbi)" stroke="#231f20" stroke-width="1"/><path d="M453.20 529.30h4 M453.20 523.61h2 M453.20 517.91h2 M453.20 512.22h2 M453.20 506.53h4 M453.20 500.83h2 M453.20 495.14h2 M453.20 489.44h2 M453.20 483.75h4 M453.20 478.06h2 M453.20 472.36h2 M453.20 466.67h2 M453.20 460.98h4 M453.20 455.28h2 M453.20 449.59h2 M453.20 443.89h2 M453.20 438.20h4 M453.20 432.51h2 M453.20 426.81h2 M453.20 421.12h2 M453.20 415.43h4 M453.20 409.73h2 M453.20 404.04h2" stroke="#333" stroke-width="0.9" fill="none"/><text x="460.00" y="535.10" font-size="13" text-anchor="start" font-weight="bold" fill="#231f20" stroke="#231f20" stroke-width="0.35" >0</text><text x="460.00" y="512.33" font-size="13" text-anchor="start" font-weight="bold" fill="#231f20" stroke="#231f20" stroke-width="0.35" >1</text><text x="460.00" y="489.55" font-size="13" text-anchor="start" font-weight="bold" fill="#231f20" stroke="#231f20" stroke-width="0.35" >2</text><text x="460.00" y="466.78" font-size="13" text-anchor="start" font-weight="bold" fill="#231f20" stroke="#231f20" stroke-width="0.35" >3</text><text x="460.00" y="444.00" font-size="13" text-anchor="start" font-weight="bold" fill="#231f20" stroke="#231f20" stroke-width="0.35" >4</text><text x="460.00" y="421.23" font-size="13" text-anchor="start" font-weight="bold" fill="#231f20" stroke="#231f20" stroke-width="0.35" >5</text><text x="454.50" y="396.50" font-size="13" text-anchor="start" font-weight="bold" fill="#231f20" stroke="#231f20" stroke-width="0.35" >μm</text></svg></body></html>
